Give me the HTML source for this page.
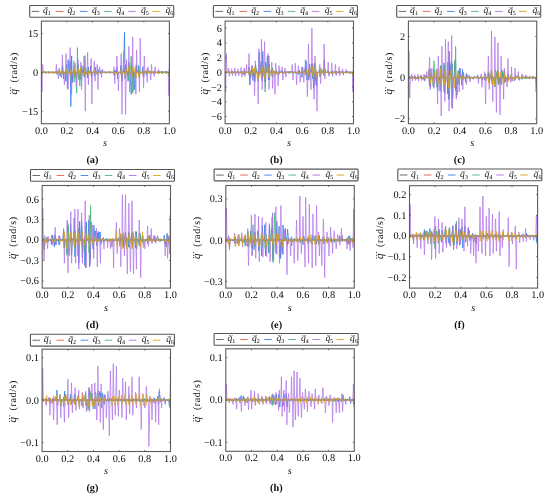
<!DOCTYPE html>
<html><head><meta charset="utf-8"><title>Jerk profiles</title>
<style>
html,body{margin:0;padding:0;background:#fff}
svg{display:block}
text{font-family:"Liberation Serif",serif;fill:#0c0c0c;text-rendering:geometricPrecision}
.t{font-size:10.3px}
.i{font-size:11px;font-style:italic}
.yl{font-size:10px;letter-spacing:0.62px}
.cap{font-size:10.3px;font-weight:bold}
.dots{font-size:9px;letter-spacing:0.4px}
.lq{font-size:9.5px;font-style:italic}
.ld{font-size:7px;letter-spacing:-0.35px}
.ls{font-size:6px}
</style></head><body>
<svg width="550" height="498" viewBox="0 0 550 498">
<rect width="550" height="498" fill="#fff"/>
<g><clipPath id="ca"><rect x="41.4" y="21.1" width="128" height="102.6"/></clipPath>
<g clip-path="url(#ca)" fill="none" stroke-linejoin="round">
<polyline stroke="#5a5a5a" stroke-width="0.6" points="41.4,72.4 41.4,72.4 42,73.2 42.7,71.6 43.4,72.4 44.4,72.4 45.1,73 45.8,71.8 46.5,72.4 48,72.4 48.6,71.8 49.4,72.9 50,72.4 51.9,72.4 52.5,72.9 53.3,72.1 53.9,72.4 55.8,72.4 56.4,71.7 57.2,73 57.8,72.4 58.3,72.4 59,71.7 59.7,73.4 60.3,72.4 62.1,72.4 62.7,71.4 63.5,73.6 64.1,72.4 65.1,72.4 65.7,71.3 66.5,73.9 67.1,72.4 69.1,72.4 69.7,73.6 70.5,71 71.1,72.4 73.3,72.4 74,73.9 74.7,70.4 75.4,72.4 77.5,72.4 78.1,70.8 78.9,74.1 79.5,72.4 80.5,72.4 81.2,74.3 81.9,70.3 82.6,72.4 83.2,72.4 83.9,70.8 84.6,74 85.2,72.4 86.7,72.4 87.4,74.3 88.1,71.3 88.8,72.4 90.3,72.4 90.9,71.5 91.7,73.5 92.3,72.4 94,72.4 94.6,71.5 95.4,73.2 96,72.4 96.5,72.4 97.1,73.1 97.9,71.7 98.5,72.4 100,72.4 100.6,71.9 101.4,72.9 102,72.4 104.9,72.4 105.5,71.9 106.3,72.9 106.9,72.4 108.9,72.4 109.6,73 110.3,71.8 110.9,72.4 113.2,72.4 113.8,71.8 114.5,73 115.2,72.4 116.2,72.4 116.8,73.5 117.6,71.5 118.2,72.4 120.3,72.4 120.9,74.1 121.7,70.7 122.3,72.4 124.5,72.4 125.1,73.8 125.9,70.8 126.5,72.4 127.6,72.4 128.2,70.9 129,74 129.6,72.4 131.1,72.4 131.8,74.5 132.5,70.4 133.2,72.4 134.3,72.4 134.9,74.7 135.7,70.4 136.3,72.4 138.2,72.4 138.8,70.4 139.6,73.9 140.2,72.4 142.4,72.4 143,73.7 143.8,71.1 144.4,72.4 146,72.4 146.6,71 147.4,73.8 148,72.4 149,72.4 149.7,71.2 150.4,73.9 151.1,72.4 153.3,72.4 154,71.6 154.7,73.9 155.4,72.4 157.5,72.4 158.1,73.6 158.9,71.3 159.5,72.4 161.2,72.4 161.8,73.5 162.6,71.5 163.2,72.4 164.8,72.4 165.4,71.6 166.2,73.2 166.8,72.4 168.2,72.4 168.8,72.8 169.5,71.9 169.4,72.4"/>
<polyline stroke="#ea5a56" stroke-width="0.6" points="41.4,72.4 41.4,72.4 42,73.1 42.7,71.4 43.4,72.4 44.2,72.4 44.8,71.8 45.6,73.4 46.2,72.4 47.8,72.4 48.4,71.6 49.2,73.2 49.8,72.4 51.8,72.4 52.4,72.9 53.1,71.9 53.8,72.4 55.9,72.4 56.5,73.5 57.3,71.6 57.9,72.4 58.5,72.4 59.1,71.4 59.9,73.7 60.5,72.4 61.7,72.4 62.3,70.6 63.1,73.9 63.7,72.4 65.2,72.4 65.8,74 66.6,70.1 67.2,72.4 69.7,72.4 70.4,69.7 71.1,75.1 71.7,72.4 73.3,72.4 73.9,70.4 74.7,74.9 75.3,72.4 77.5,72.4 78.2,75.5 78.9,69.3 79.6,72.4 80.2,72.4 80.8,75.4 81.6,69.5 82.2,72.4 83.1,72.4 83.7,75.2 84.5,70 85.1,72.4 86.9,72.4 87.5,70.5 88.3,74 88.9,72.4 90.3,72.4 90.9,70.7 91.6,73.9 92.3,72.4 93.7,72.4 94.3,71.3 95.1,73.8 95.7,72.4 96.7,72.4 97.4,73.5 98.1,71.4 98.8,72.4 100,72.4 100.6,73 101.4,72 102,72.4 104.4,72.4 105,72.7 105.8,71.9 106.4,72.4 108.8,72.4 109.5,72.9 110.2,71.8 110.9,72.4 113.4,72.4 114,72.9 114.8,72 115.4,72.4 116.5,72.4 117.2,71.4 117.9,73.2 118.6,72.4 120.3,72.4 120.9,74.1 121.7,70.7 122.3,72.4 124.2,72.4 124.8,70.4 125.6,74.6 126.2,72.4 127.8,72.4 128.4,75 129.2,69.1 129.8,72.4 131.1,72.4 131.7,75.5 132.5,69.6 133.1,72.4 134.2,72.4 134.8,69.6 135.6,75.3 136.2,72.4 138.1,72.4 138.7,74.5 139.5,70.9 140.1,72.4 142,72.4 142.6,73.6 143.4,71 144,72.4 145.5,72.4 146.2,71.2 146.9,73.6 147.5,72.4 149.5,72.4 150.1,71.3 150.9,73.7 151.5,72.4 152.7,72.4 153.3,73.5 154.1,71.5 154.7,72.4 157.8,72.4 158.5,73.3 159.2,71.5 159.9,72.4 161.3,72.4 161.9,71.4 162.7,73.5 163.3,72.4 165.3,72.4 165.9,71.4 166.7,73.1 167.3,72.4 168.2,72.4 168.8,73.1 169.5,71.8 169.4,72.4"/>
<polyline stroke="#3580ea" stroke-width="0.8" points="41.4,72.4 41.4,72.4 42,73.4 42.7,71.5 43.4,72.4 44.4,72.4 45.1,73 45.8,71.8 46.5,72.4 47.8,72.4 48.4,71.9 49.2,72.9 49.8,72.4 52.1,72.4 52.7,71.8 53.5,73.3 54.1,72.4 55.9,72.4 56.5,70.4 57.3,74.5 57.9,72.4 58.8,72.4 59.4,69.3 60.1,76.2 60.8,72.4 62,72.4 62.6,66.3 63.4,78.8 64,72.4 65.3,72.4 65.9,81.2 66.7,64.3 67.4,88.4 68.1,59.6 69.1,72.4 69.5,72.4 70.1,61.1 70.8,106.4 71.6,56 72.3,82.6 72.9,72.4 73.6,72.4 74.2,66.3 75,78 75.6,72.4 77.6,72.4 78.3,65.7 79,77.7 79.7,72.4 80.5,72.4 81.1,79.6 81.9,65.5 82.5,72.4 83.3,72.4 83.9,67.3 84.7,77 85.3,72.4 87,72.4 87.7,78 88.4,66.9 89.1,72.4 90.1,72.4 90.7,66 91.5,77.5 92.1,72.4 93.9,72.4 94.5,75.9 95.3,67.2 95.9,72.4 96.8,72.4 97.4,75.2 98.2,69.5 98.8,72.4 99.9,72.4 100.5,74 101.3,70.3 101.9,72.4 104.3,72.4 104.9,71.7 105.7,73.3 106.3,72.4 109.3,72.4 110,71.6 110.7,73 111.4,72.4 113.6,72.4 114.2,75.4 115,70 115.6,72.4 116.2,72.4 116.8,67.5 117.6,79 118.2,72.4 120.3,72.4 120.9,65.3 121.7,81.2 122.3,72.4 123.5,72.4 124.5,32 125.2,78.6 125.9,64.6 126.5,72.4 127.5,72.4 128.1,81.2 128.9,62.4 129.5,72.4 130.2,72.4 131.2,94.4 132.2,65.2 132.9,79 133.6,72.4 133.8,72.4 134.8,89.6 135.2,73.1 135.5,77.9 136.2,64.8 136.9,72.4 138,72.4 138.6,65.5 139.3,77.8 140,72.4 142.3,72.4 143,66.6 143.7,77.2 144.4,72.4 145.9,72.4 146.5,75 147.3,69.1 147.9,72.4 149.1,72.4 149.7,70.8 150.5,74 151.1,72.4 152.9,72.4 153.5,74 154.3,70.8 154.9,72.4 157.8,72.4 158.4,71.6 159.2,73.3 159.8,72.4 161.1,72.4 161.7,71.4 162.5,73.5 163.1,72.4 165.3,72.4 166,73.3 166.7,71.8 167.4,72.4 168.2,72.4 168.8,76.3 169.5,68.3 169.4,72.4"/>
<polyline stroke="#45b57c" stroke-width="0.8" points="41.4,72.4 41.4,72.4 42,72.9 42.7,72 43.4,72.4 44.1,72.4 44.8,71.9 45.5,73 46.1,72.4 48.1,72.4 48.7,72 49.5,72.8 50.1,72.4 51.9,72.4 52.6,71.9 53.3,72.9 54,72.4 55.5,72.4 56.2,73.7 56.9,71.6 57.6,72.4 58.7,72.4 59.3,70.9 60.1,74.1 60.7,72.4 62.1,72.4 62.7,70.3 63.5,75.6 64.1,72.4 65.1,72.4 65.7,77.4 66.5,67.6 67.1,72.4 69.7,72.4 70.3,66.8 71.1,79.6 71.7,72.4 73.5,72.4 74.1,82.2 74.9,63 75.5,72.4 75.8,72.4 76.7,93.2 77.4,47.6 77.8,71.4 78.2,64.1 78.9,80.1 79.4,73.3 79.8,86.2 80.9,67.2 81.7,77.3 82.3,72.4 83.7,72.4 84.3,77.3 85,55.5 85.4,71.8 85.7,67.3 86.4,72.4 86.6,72.4 87.3,75.6 88,68.5 88.7,72.4 90.4,72.4 91,70.6 91.8,74.5 92.4,72.4 93.4,72.4 94,70.5 94.8,74.1 95.4,72.4 96.6,72.4 97.3,73.8 98,71.2 98.6,72.4 100.2,72.4 100.8,73.2 101.5,71.8 102.2,72.4 104.6,72.4 105.2,72 106,73 106.6,72.4 109.3,72.4 109.9,72 110.7,73 111.3,72.4 113.3,72.4 113.9,72.8 114.7,71.9 115.3,72.4 116.5,72.4 117.1,70.5 117.9,74.6 118.5,72.4 120.9,72.4 121.5,68.4 122.2,76.9 122.9,72.4 124,72.4 124.6,67.6 125.4,77.2 126,72.4 127.9,72.4 128.5,80 129.3,67.4 129.9,72.4 130.2,72.4 131.2,56 131.7,71.6 132.1,65.5 132.8,93.2 133.2,73.2 133.6,79.1 134.2,72.4 134.7,72.4 135.3,77.4 136.1,67 136.7,72.4 138,72.4 138.6,67.9 139.3,77.2 140,72.4 142,72.4 142.6,74.5 143.4,70.1 144,72.4 145.6,72.4 146.2,71.1 147,74.5 147.6,72.4 149.6,72.4 150.2,73.5 150.9,71.2 151.6,72.4 153,72.4 153.7,73.2 154.4,71.5 155.1,72.4 157.7,72.4 158.3,71.4 159.1,73.5 159.7,72.4 161.7,72.4 162.4,73.2 163.1,71.6 163.8,72.4 165.2,72.4 165.8,71.4 166.6,73.3 167.2,72.4 168.2,72.4 168.8,73.6 169.5,71.5 169.4,72.4"/>
<polyline stroke="#ae70e8" stroke-width="0.7" points="41.4,72.4 41.4,72.4 42,92 42.7,64.4 43.3,72.4 44.5,71.7 46.2,73.6 47.7,71.8 49.3,73.3 50.5,71.7 51.7,73 53,71.4 54.5,73.3 55.8,72.4 56.4,64.4 57,72.4 57.8,72.4 58.4,78.8 59.3,68 59.9,72.4 60.9,72.4 61.5,77.6 62.4,54.8 63,72.4 63.8,72.4 64.4,84.8 65,72.4 65.4,72.4 66,53.6 66.6,72.4 67.4,72.4 68,89.6 68.6,72.4 69.5,72.4 70.1,47.6 70.7,72.4 71,72.4 71.6,94.4 72.2,72.4 73.4,72.4 73.9,60.8 74.5,72.4 75.8,72.4 76.4,86 77,72.4 77.4,72.4 78,59.6 78.6,72.4 80.3,72.4 80.9,62 81.6,89.6 82.2,72.4 83.4,72.4 84,56 84.6,72.4 84.7,72.4 85.3,111.2 85.8,72.4 87,72.4 87.6,52.4 88.4,84.8 89,72.4 90.6,72.4 91.2,58.4 91.9,104 92.5,72.4 93.8,72.4 94.3,60.8 95.1,81.2 95.7,72.4 96.6,72.4 97.2,64.4 98,89.6 98.6,72.4 99,72.4 99.6,66.8 100.2,72.4 101,72.4 101.6,77.6 102.5,69.2 103.1,72.4 104.3,71.6 105.9,73.2 107.7,71.4 109.5,73.5 110.6,71.8 111.9,72.9 113.4,72.4 114,66.8 114.8,83.6 115.4,72.4 116.3,72.4 116.9,56 117.5,72.4 117.8,72.4 118.4,90.8 119,72.4 120.6,72.4 121.2,53.6 122,114.3 122.6,72.4 123,72.4 123.6,51.2 124.2,72.4 125,72.4 125.6,114.3 126.5,59.6 127.1,72.4 128.3,72.4 128.9,46.4 129.6,92 130.2,72.4 132.2,72.4 132.7,36.8 133.5,90.8 134,72.4 135.3,72.4 135.9,94.4 136.6,50 137.2,72.4 138.9,72.4 139.5,92 140.2,38 140.8,72.4 143,72.4 143.6,87.7 144.3,56 144.9,72.4 146.6,72.4 147.2,82.4 147.9,66.8 148.5,72.4 150.2,72.4 150.8,80 151.5,64.4 152.1,72.4 153.8,72.4 154.4,76.4 155.1,66.8 155.7,72.4 157.8,72.4 158.4,69.2 159,72.4 160.2,71.6 161.9,73 163.5,71.2 164.8,73.2 166.2,71.4 168.2,72.4 168.8,95.6 169.5,58.4 169.4,72.4"/>
<polyline stroke="#e0a315" stroke-width="0.68" points="41.4,72.4 41.4,72.4 42,74.7 42.7,70.7 43.4,72.4 44.4,72.4 45.1,71.7 45.8,73 46.5,72.4 48.1,72.4 48.7,73.3 49.5,71.7 50.1,72.4 51.6,72.4 52.2,71.5 53,73.3 53.6,72.4 55.5,72.4 56.1,71.2 56.9,73.6 57.5,72.4 58.4,72.4 59.1,70.7 59.8,73.8 60.4,72.4 61.4,72.4 62.1,74.1 62.8,70.2 63.5,72.4 65.7,72.4 66.3,69.4 67,75.2 67.7,72.4 69.5,72.4 70.2,75.4 70.9,70 71.6,72.4 73.3,72.4 73.9,77.4 74.7,68 75.3,72.4 77.7,72.4 78.3,68.6 79.1,76 79.7,72.4 80,72.4 80.6,67.3 81.4,77.5 82,72.4 83.5,72.4 84.1,75.7 84.9,68.6 85.5,72.4 87.3,72.4 87.9,70.3 88.7,74.5 89.3,72.4 90.2,72.4 90.8,74.8 91.6,70.9 92.2,72.4 94,72.4 94.6,70.5 95.4,74 96,72.4 96.3,72.4 96.9,73.6 97.6,71 98.3,72.4 100.2,72.4 100.8,73.2 101.6,71.6 102.2,72.4 104.8,72.4 105.4,72 106.2,73 106.8,72.4 109.2,72.4 109.8,72.9 110.6,71.6 111.2,72.4 113.1,72.4 113.7,71.7 114.5,73.3 115.1,72.4 116.2,72.4 116.8,74.3 117.6,71.2 118.2,72.4 120.4,72.4 121,70.4 121.8,74.7 122.4,72.4 124.5,72.4 125.1,76.2 125.9,68.6 126.5,72.4 128.1,72.4 128.7,66.6 129.5,76.3 130.1,72.4 131.5,72.4 132.1,76.9 132.9,66.1 133.5,72.4 134.6,72.4 135.2,66.9 136,78.5 136.6,72.4 138,72.4 138.6,76.6 139.4,69.5 140,72.4 142,72.4 142.6,74.6 143.4,69.9 144,72.4 145.7,72.4 146.3,70.3 147.1,73.8 147.7,72.4 149.4,72.4 150,71.1 150.8,73.6 151.4,72.4 153.2,72.4 153.8,73.3 154.6,71.3 155.2,72.4 157.8,72.4 158.4,73.4 159.2,71.5 159.8,72.4 161.3,72.4 161.9,71.5 162.7,73.2 163.3,72.4 165.2,72.4 165.9,72.9 166.6,71.8 167.2,72.4 168.2,72.4 168.8,75.2 169.5,70.2 169.4,72.4"/>
</g>
<rect x="41.4" y="21.1" width="128" height="102.6" fill="none" stroke="#5c5c5c" stroke-width="1.1"/>
<path d="M67 123.7v-1.5M67 21.1v1.5M92.6 123.7v-1.5M92.6 21.1v1.5M118.2 123.7v-1.5M118.2 21.1v1.5M143.8 123.7v-1.5M143.8 21.1v1.5M41.4 33.6h1.5M169.4 33.6h-1.5M41.4 72.4h1.5M169.4 72.4h-1.5M41.4 111.2h1.5M169.4 111.2h-1.5" stroke="#555" stroke-width="0.8" fill="none"/>
<text class="t" text-anchor="end" x="38.2" y="37">15</text>
<text class="t" text-anchor="end" x="38.2" y="75.8">0</text>
<text class="t" text-anchor="end" x="38.2" y="114.6">−15</text>
<text class="t" text-anchor="middle" x="41.4" y="133.7">0.0</text>
<text class="t" text-anchor="middle" x="67" y="133.7">0.2</text>
<text class="t" text-anchor="middle" x="92.6" y="133.7">0.4</text>
<text class="t" text-anchor="middle" x="118.2" y="133.7">0.6</text>
<text class="t" text-anchor="middle" x="143.8" y="133.7">0.8</text>
<text class="t" text-anchor="middle" x="169.4" y="133.7">1.0</text>
<text class="i" style="font-size:10.2px" text-anchor="middle" x="105.1" y="146.2">s</text>
<text class="cap" text-anchor="middle" x="92.4" y="163.2">(a)</text>
<g transform="translate(17 74.4) rotate(-90)">
<text class="i" x="-20.2" y="0">q</text><text class="dots" x="-20.0" y="-6.0">...</text><text class="yl" x="-8.0" y="0">(rad/s)</text></g>
<rect x="29.7" y="5.5" width="144" height="11.8" rx="0.8" fill="#fff" stroke="#555" stroke-width="1.1"/>
<path d="M31.7 11.4h7.6" stroke="#5a5a5a" stroke-width="0.9"/>
<text class="lq" x="43" y="13.4">q</text><text class="ld" x="44" y="8.1">...</text><text class="ls" x="47.8" y="15.2">1</text>
<path d="M55.8 11.4h7.6" stroke="#ea5a56" stroke-width="0.9"/>
<text class="lq" x="67.5" y="13.4">q</text><text class="ld" x="68.5" y="8.1">...</text><text class="ls" x="72.3" y="15.2">2</text>
<path d="M79.9 11.4h7.6" stroke="#3580ea" stroke-width="0.9"/>
<text class="lq" x="92" y="13.4">q</text><text class="ld" x="93" y="8.1">...</text><text class="ls" x="96.8" y="15.2">3</text>
<path d="M104 11.4h7.6" stroke="#45b57c" stroke-width="0.9"/>
<text class="lq" x="116.5" y="13.4">q</text><text class="ld" x="117.5" y="8.1">...</text><text class="ls" x="121.3" y="15.2">4</text>
<path d="M128.1 11.4h7.6" stroke="#ae70e8" stroke-width="0.9"/>
<text class="lq" x="141" y="13.4">q</text><text class="ld" x="142" y="8.1">...</text><text class="ls" x="145.8" y="15.2">5</text>
<path d="M152.2 11.4h7.6" stroke="#e0a315" stroke-width="0.9"/>
<text class="lq" x="165.5" y="13.4">q</text><text class="ld" x="166.5" y="8.1">...</text><text class="ls" x="170.3" y="15.2">6</text></g>
<g><clipPath id="cb"><rect x="225.1" y="21.1" width="128.4" height="102.6"/></clipPath>
<g clip-path="url(#cb)" fill="none" stroke-linejoin="round">
<polyline stroke="#5a5a5a" stroke-width="0.6" points="225.1,72.4 225.7,72.9 226.4,71.5 227.1,72.4 228.2,72.4 228.8,71.9 229.6,73.2 230.2,72.4 231,72.4 231.7,73 232.4,71.7 233.1,72.4 234.4,72.4 235,71.7 235.8,72.9 236.4,72.4 237.5,72.4 238.1,71.7 238.9,73.1 239.5,72.4 240.8,72.4 241.4,71.9 242.1,73 242.8,72.4 243.7,72.4 244.3,71.8 245.1,73.4 245.7,72.4 248.2,72.4 248.8,73.4 249.6,70.9 250.2,72.4 251.4,72.4 252.1,71.2 252.8,74 253.5,72.4 254.7,72.4 255.3,73.8 256.1,71.2 256.7,72.4 258.2,72.4 258.8,71 259.6,74.4 260.2,72.4 260.9,72.4 261.5,75 262.3,69.9 262.9,72.4 263.9,72.4 264.5,74.2 265.3,70.8 265.9,72.4 267.5,72.4 268.1,70.1 268.9,73.8 269.5,72.4 271.2,72.4 271.8,71.2 272.6,73.6 273.2,72.4 275,72.4 275.7,73.3 276.4,71 277.1,72.4 278.4,72.4 279,71.7 279.8,73.1 280.4,72.4 281.2,72.4 281.8,73 282.6,71.6 283.2,72.4 284.2,72.4 284.8,72.7 285.6,72.1 286.2,72.4 288.1,72.4 288.7,71.9 289.5,72.7 290.1,72.4 291.4,72.4 292,72.9 292.8,71.9 293.4,72.4 294.7,72.4 295.3,72.9 296.1,71.9 296.7,72.4 298.1,72.4 298.8,71.8 299.5,73 300.1,72.4 301.4,72.4 302,73.2 302.8,71.2 303.4,72.4 304.5,72.4 305.1,70.3 305.9,74.5 306.5,72.4 308.2,72.4 308.8,74.1 309.6,69.7 310.2,72.4 311.2,72.4 311.9,69.7 312.6,74.2 313.3,72.4 314.1,72.4 314.7,74.7 315.5,70.7 316.1,72.4 319.3,72.4 319.9,75.9 320.7,69.4 321.3,72.4 322.9,72.4 323.6,75.2 324.3,59.6 324.7,72 325,69.2 325.6,72.4 327.3,72.4 327.9,70.1 328.7,74.3 329.3,72.4 331.3,72.4 331.9,73.6 332.7,71.3 333.3,72.4 335.1,72.4 335.7,73.4 336.5,71.5 337.1,72.4 338.3,72.4 339,73.3 339.7,71.3 340.4,72.4 342.1,72.4 342.8,71.6 343.5,73.4 344.1,72.4 345.7,72.4 346.3,73 347.1,71.5 347.7,72.4 349.3,72.4 349.9,71.7 350.7,73.2 351.3,72.4 352.3,72.4 352.9,72.9 353.6,72 353.5,72.4"/>
<polyline stroke="#ea5a56" stroke-width="0.6" points="225.1,72.4 225.7,73.3 226.4,71.3 227.1,72.4 228,72.4 228.6,73.1 229.4,71.3 230,72.4 231.2,72.4 231.8,71.5 232.5,73.2 233.2,72.4 234.2,72.4 234.8,71.6 235.6,73.3 236.2,72.4 237.4,72.4 238,73.2 238.8,71.7 239.4,72.4 240.2,72.4 240.8,73.3 241.6,71.7 242.2,72.4 243.5,72.4 244.2,71.2 244.9,73.5 245.6,72.4 248.5,72.4 249.1,75.2 249.9,70.5 250.5,72.4 251.5,72.4 252.1,69 252.9,76.3 253.5,72.4 254.4,72.4 255,75.5 255.8,68.5 256.4,72.4 257.7,72.4 258.3,69.9 259.1,75 259.7,72.4 261,72.4 261.6,69.1 262.3,76.8 263,72.4 263.7,72.4 264.3,76.9 265,68.7 265.7,72.4 267.8,72.4 268.4,69.1 269.2,75.8 269.8,72.4 271.5,72.4 272.1,74.3 272.9,70.2 273.5,72.4 274.8,72.4 275.5,70.8 276.2,73.8 276.9,72.4 278.1,72.4 278.7,73.4 279.4,71.5 280.1,72.4 281.9,72.4 282.5,71.5 283.3,73 283.9,72.4 284.6,72.4 285.2,72 286,72.7 286.6,72.4 287.7,72.4 288.3,72.8 289.1,72.1 289.7,72.4 291.3,72.4 291.9,72 292.7,73 293.3,72.4 294.8,72.4 295.4,71.9 296.2,72.9 296.8,72.4 298.1,72.4 298.7,73 299.5,71.9 300.1,72.4 301.3,72.4 301.9,71.4 302.7,73.8 303.3,72.4 304.8,72.4 305.4,69.2 306.1,75.5 306.8,72.4 307.9,72.4 308.6,75.3 309.3,68.7 310.6,72 311.8,63.9 312.2,72.1 312.5,69.8 313.2,76.3 313.9,72.4 314.2,72.4 314.9,76.1 315.6,69.3 316.3,72.4 319.5,72.4 320.2,75.1 320.9,70.4 321.5,72.4 322.9,72.4 323.6,73.5 324.3,71.5 325,72.4 327.8,72.4 328.4,71.2 329.1,73.5 329.8,72.4 331.4,72.4 332,71.1 332.7,73.7 333.4,72.4 334.9,72.4 335.5,71.3 336.3,73.4 336.9,72.4 338.6,72.4 339.2,73.3 340,71.6 340.6,72.4 342.1,72.4 342.7,73.2 343.5,71.8 344.1,72.4 345.6,72.4 346.2,71.3 347,73.2 347.6,72.4 349.3,72.4 350,73.4 350.7,71.8 351.3,72.4 352.3,72.4 352.9,73.1 353.6,71.7 353.5,72.4"/>
<polyline stroke="#3580ea" stroke-width="0.8" points="225.1,72.4 225.7,73.4 226.4,71 227.1,72.4 228.1,72.4 228.7,73.1 229.5,71.7 230.1,72.4 231.4,72.4 232.1,73.2 232.8,71.6 233.4,72.4 233.9,72.4 234.5,73.3 235.3,71.4 235.9,72.4 237.2,72.4 237.8,71.1 238.6,73.2 239.2,72.4 240.7,72.4 241.3,73.2 242.1,71.3 242.7,72.4 243.2,72.4 243.9,74.9 244.6,69.5 245.3,72.4 248.5,72.4 249.1,67.3 249.9,84.8 250.2,73.1 250.6,77.9 251.2,72.4 251.5,72.4 252.1,65.7 252.9,80.6 253.5,72.4 254.2,72.4 254.8,82 255.6,64.7 256.2,72.4 257.7,72.4 258.4,81.7 259.1,52.4 259.4,71.5 259.8,64.9 260.4,72.4 260.6,72.4 261.2,61.1 262,80.8 262.7,51.2 263.7,72.4 264.2,72.4 264.9,81.8 265.6,62.1 266.3,72.4 266.4,72.4 267.4,56 268.4,80 269.1,64 269.7,72.4 271.2,72.4 271.8,69 272.6,77 273.2,72.4 274.8,72.4 275.4,70.5 276.2,74.4 276.8,72.4 278.4,72.4 279,74.4 279.8,70.5 280.4,72.4 281.5,72.4 282.1,70.7 282.9,73.7 283.5,72.4 284.5,72.4 285.2,73.5 285.9,71.4 286.6,72.4 288,72.4 288.6,73.4 289.4,71.2 290,72.4 291.7,72.4 292.3,71.3 293.1,73.4 293.7,72.4 295,72.4 295.6,71.5 296.4,73.4 297,72.4 297.8,72.4 298.4,74.6 299.2,70.1 299.8,72.4 301.3,72.4 302,77.4 302.7,67.5 303.3,72.4 304.8,72.4 305.4,67.5 305.7,71.8 306.1,60.8 306.8,79.9 307.4,72.4 308.3,72.4 308.9,80.2 309.6,64.2 310.3,72.4 311.4,72.4 312,63.9 312.7,78.9 313.1,73.2 313.5,88.4 314.9,63.7 315.7,80.6 316,73.4 316.4,86 317.4,72.4 318.9,72.4 319.5,69.3 320.3,77 320.9,72.4 322.6,72.4 323.2,69.7 323.9,75.3 324.6,72.4 327.8,72.4 328.4,71 329.2,74.3 329.8,72.4 331,72.4 331.7,73.5 332.4,71.5 333.1,72.4 334.7,72.4 335.3,71.6 336,73.3 336.7,72.4 338.7,72.4 339.4,73.2 340.1,71.7 340.7,72.4 341.9,72.4 342.5,71.5 343.3,73.5 343.9,72.4 345.9,72.4 346.5,73.1 347.3,71.5 347.9,72.4 349.2,72.4 349.9,73.3 350.6,71.6 351.3,72.4 352.3,72.4 352.9,76.3 353.6,69 353.5,72.4"/>
<polyline stroke="#45b57c" stroke-width="0.8" points="225.1,72.4 225.7,73 226.4,71.5 227.1,72.4 227.6,72.4 228.3,73.1 229,71.7 229.7,72.4 231.2,72.4 231.8,73.1 232.6,71.6 233.2,72.4 234.6,72.4 235.2,71.8 236,73.1 236.6,72.4 237.2,72.4 237.8,71.9 238.5,72.9 239.2,72.4 240.4,72.4 241,71.7 241.8,73.1 242.4,72.4 243.7,72.4 244.4,71.1 245.1,73.6 245.8,72.4 248.3,72.4 248.9,74.2 249.7,69.8 250.3,72.4 251.9,72.4 252.5,75 253.2,68.7 253.9,72.4 254.6,72.4 255.2,77 256,68.4 256.6,72.4 258,72.4 258.6,77.2 259.4,66.9 260,72.4 260.9,72.4 261.5,64.1 262.3,77.9 262.9,72.4 263.8,72.4 264.4,77.4 264.8,73 265.1,92 265.9,66.7 266.5,72.4 267.6,72.4 268.2,63.6 268.5,71.3 268.9,56 269.6,79.9 270.2,72.4 271.1,72.4 271.7,75.6 272.5,67.6 273.1,72.4 275,72.4 275.6,70.1 276.3,74.1 277,72.4 278.1,72.4 278.7,73.9 279.4,71.1 280.1,72.4 281.2,72.4 281.9,71.1 282.6,73.6 283.3,72.4 284.1,72.4 284.7,71.9 285.5,72.9 286.1,72.4 288,72.4 288.6,71.9 289.4,73.1 290,72.4 291.5,72.4 292.2,72.8 292.9,71.7 293.6,72.4 294.9,72.4 295.6,71.8 296.3,72.8 297,72.4 298.2,72.4 298.8,73.1 299.6,71.8 300.2,72.4 301.1,72.4 301.7,73.9 302.5,71 303.1,72.4 304.8,72.4 305.5,74.8 306.2,69.8 306.8,72.4 307.9,72.4 308.5,68.7 309.3,77.5 309.9,72.4 311.3,72.4 311.9,65.3 312.7,77.5 314.2,63.2 314.9,84.8 315.6,66.4 316.4,79.2 317,72.4 319.5,72.4 320.1,75.7 320.9,67.9 321.5,72.4 323,72.4 323.6,74.2 324.4,69.5 325,72.4 328,72.4 328.6,71.2 329.3,73.6 330,72.4 331.4,72.4 332,73.4 332.8,71.4 333.4,72.4 334.6,72.4 335.2,73.4 336,71.4 336.6,72.4 338.2,72.4 338.9,73.2 339.6,71.5 340.3,72.4 342.2,72.4 342.9,71.7 343.6,73.3 344.3,72.4 345.5,72.4 346.1,73 346.9,71.5 347.5,72.4 348.7,72.4 349.4,71.8 350.1,73.2 350.8,72.4 352.3,72.4 352.9,73.1 353.6,71.6 353.5,72.4"/>
<polyline stroke="#ae70e8" stroke-width="0.7" points="225.1,72.4 225.1,72.4 225.7,92 226.4,53.6 227,72.4 228,72.4 228.6,68 229.4,76.4 230,72.4 231.2,72.4 231.7,68.7 232.5,75.7 233.1,72.4 234.3,72.4 234.9,68 235.6,76.4 236.2,72.4 237.4,72.4 238,68.7 238.7,75.7 239.3,72.4 240.5,72.4 241.1,67.5 241.9,77.1 242.4,72.4 243.6,72.4 244.2,68 245,76.4 245.6,72.4 246,72.4 246.6,64.4 247.2,72.4 248.4,72.4 249,53.6 249.8,84.8 250.4,72.4 251.6,72.4 252.1,65.6 252.7,72.4 254,72.4 254.6,95.6 255.3,60.8 255.9,72.4 257.6,72.4 258.2,104 258.9,48.8 259.5,72.4 260.9,72.4 261.5,39.2 262.2,89.6 262.8,72.4 264,72.4 264.6,41.6 265.4,87.2 266,72.4 267.6,72.4 268.2,53.6 269,89.6 269.6,72.4 271.2,72.4 271.8,62 272.6,88.4 273.2,72.4 274.4,72.4 275,94.4 275.7,63.2 276.3,72.4 277.5,72.4 278.1,86 279,65.6 279.6,72.4 281.6,72.4 282.1,66.8 282.9,80 283.4,72.4 284.4,72.4 285,68 285.8,77.1 286.4,72.4 287.6,71.5 289.1,72.9 290.2,71.4 291.6,72.4 292.2,64.4 293,80 293.6,72.4 294.8,72.4 295.3,63.2 295.9,72.4 296,72.4 296.6,84.8 297.2,72.4 297.9,72.4 298.5,65.6 299,72.4 299.6,72.4 300.2,82.4 300.8,72.4 301.2,72.4 301.8,66.8 302.4,72.4 303.2,72.4 303.8,82.4 304.4,72.4 304.8,72.4 305.4,59.6 306,72.4 306.8,72.4 307.4,96.8 308.5,44 309.1,72.4 310.4,72.4 311,89.6 311.9,28.4 312.5,72.4 313.5,72.4 314.1,99.2 315,56 315.6,72.4 316.4,72.4 317,111.2 317.6,72.4 319.2,72.4 319.8,64.4 320.6,83.6 321.2,72.4 323.6,72.4 324.1,44 324.9,78.8 325.4,72.4 327.6,72.4 328.2,62 329,76.4 329.6,72.4 331.2,72.4 331.8,62.7 332.6,76.4 333.2,72.4 334.8,72.4 335.4,64.4 336.2,75.7 336.8,72.4 338.4,72.4 339,66.8 339.8,75.7 340.4,72.4 342,72.4 342.6,68.7 343.4,75.2 344,72.4 345.6,72.4 346.2,69.2 346.8,72.4 348,71.6 349.7,73.2 352.3,72.4 352.9,92 353.6,51.2 353.5,72.4"/>
<polyline stroke="#e0a315" stroke-width="0.68" points="225.1,72.4 225.7,73.9 226.4,71 227.1,72.4 227.8,72.4 228.4,73 229.2,71.7 229.8,72.4 231.1,72.4 231.7,71.6 232.5,73.1 233.1,72.4 234.3,72.4 234.9,71.5 235.6,73.1 236.3,72.4 237.2,72.4 237.8,72.9 238.6,71.5 239.2,72.4 240.6,72.4 241.3,73.3 242,71.6 242.7,72.4 243.6,72.4 244.2,73.4 245,71.3 245.6,72.4 248.7,72.4 249.3,70.1 250.1,74.5 250.7,72.4 251.3,72.4 251.9,75.9 252.7,67.9 253.3,72.4 254.3,72.4 254.9,66.5 255.7,78.4 256.3,72.4 258.1,72.4 258.7,79 259.5,65.7 260.1,72.4 260.7,72.4 261.3,76.5 262.1,66.1 262.7,72.4 263.9,72.4 264.6,78.2 265.3,66.6 266,72.4 267.4,72.4 268.1,67.6 268.8,76.8 269.5,72.4 271.4,72.4 272.1,75.6 272.8,70.1 273.4,72.4 274.7,72.4 275.4,70.4 276.1,74.5 276.8,72.4 278.2,72.4 278.8,73.6 279.6,71.6 280.2,72.4 281.5,72.4 282.2,71.6 282.9,73.2 283.5,72.4 284.7,72.4 285.4,73 286.1,71.9 286.7,72.4 288.1,72.4 288.7,71.9 289.5,72.9 290.1,72.4 291.4,72.4 292,73.1 292.7,71.7 293.4,72.4 294.7,72.4 295.3,71.7 296.1,73.1 296.7,72.4 297.6,72.4 298.2,71.7 299,73 299.6,72.4 301,72.4 301.6,73.8 302.4,70.9 303,72.4 305.1,72.4 305.7,74.3 306.5,69.8 307.1,72.4 307.7,72.4 308.3,75.8 309.1,68.9 309.7,72.4 311.6,72.4 312.2,66.1 313,76.1 313.6,72.4 314.7,72.4 315.3,65.7 316.1,76.9 316.7,72.4 319.2,72.4 319.8,76.8 320.5,68.9 321.2,72.4 323,72.4 323.6,73.9 324.4,70.2 325,72.4 327.3,72.4 327.9,71.2 328.7,73.7 329.3,72.4 331.2,72.4 331.9,71.6 332.6,73 333.3,72.4 334.9,72.4 335.5,73 336.3,71.6 336.9,72.4 338.1,72.4 338.8,71.9 339.5,72.9 340.2,72.4 341.7,72.4 342.3,73.1 343.1,71.8 343.7,72.4 345.9,72.4 346.5,71.7 347.3,73.1 347.9,72.4 349.3,72.4 349.9,72.9 350.7,71.9 351.3,72.4 352.3,72.4 352.9,75.5 353.6,69 353.5,72.4"/>
</g>
<rect x="225.1" y="21.1" width="128.4" height="102.6" fill="none" stroke="#5c5c5c" stroke-width="1.1"/>
<path d="M250.8 123.7v-1.5M250.8 21.1v1.5M276.5 123.7v-1.5M276.5 21.1v1.5M302.1 123.7v-1.5M302.1 21.1v1.5M327.8 123.7v-1.5M327.8 21.1v1.5M225.1 28.2h1.5M353.5 28.2h-1.5M225.1 43h1.5M353.5 43h-1.5M225.1 57.7h1.5M353.5 57.7h-1.5M225.1 72.4h1.5M353.5 72.4h-1.5M225.1 87.1h1.5M353.5 87.1h-1.5M225.1 101.8h1.5M353.5 101.8h-1.5M225.1 116.5h1.5M353.5 116.5h-1.5" stroke="#555" stroke-width="0.8" fill="none"/>
<text class="t" text-anchor="end" x="221.9" y="31.6">6</text>
<text class="t" text-anchor="end" x="221.9" y="46.4">4</text>
<text class="t" text-anchor="end" x="221.9" y="61.1">2</text>
<text class="t" text-anchor="end" x="221.9" y="75.8">0</text>
<text class="t" text-anchor="end" x="221.9" y="90.5">−2</text>
<text class="t" text-anchor="end" x="221.9" y="105.2">−4</text>
<text class="t" text-anchor="end" x="221.9" y="119.9">−6</text>
<text class="t" text-anchor="middle" x="225.1" y="133.7">0.0</text>
<text class="t" text-anchor="middle" x="250.8" y="133.7">0.2</text>
<text class="t" text-anchor="middle" x="276.5" y="133.7">0.4</text>
<text class="t" text-anchor="middle" x="302.1" y="133.7">0.6</text>
<text class="t" text-anchor="middle" x="327.8" y="133.7">0.8</text>
<text class="t" text-anchor="middle" x="353.5" y="133.7">1.0</text>
<text class="i" style="font-size:10.2px" text-anchor="middle" x="289" y="146.2">s</text>
<text class="cap" text-anchor="middle" x="276.4" y="163.2">(b)</text>
<g transform="translate(207.8 74.4) rotate(-90)">
<text class="i" x="-20.2" y="0">q</text><text class="dots" x="-20.0" y="-6.0">...</text><text class="yl" x="-8.0" y="0">(rad/s)</text></g>
<rect x="213.4" y="5.5" width="144" height="11.8" rx="0.8" fill="#fff" stroke="#555" stroke-width="1.1"/>
<path d="M215.4 11.4h7.6" stroke="#5a5a5a" stroke-width="0.9"/>
<text class="lq" x="226.7" y="13.4">q</text><text class="ld" x="227.7" y="8.1">...</text><text class="ls" x="231.5" y="15.2">1</text>
<path d="M239.5 11.4h7.6" stroke="#ea5a56" stroke-width="0.9"/>
<text class="lq" x="251.2" y="13.4">q</text><text class="ld" x="252.2" y="8.1">...</text><text class="ls" x="256" y="15.2">2</text>
<path d="M263.6 11.4h7.6" stroke="#3580ea" stroke-width="0.9"/>
<text class="lq" x="275.7" y="13.4">q</text><text class="ld" x="276.7" y="8.1">...</text><text class="ls" x="280.5" y="15.2">3</text>
<path d="M287.7 11.4h7.6" stroke="#45b57c" stroke-width="0.9"/>
<text class="lq" x="300.2" y="13.4">q</text><text class="ld" x="301.2" y="8.1">...</text><text class="ls" x="305" y="15.2">4</text>
<path d="M311.8 11.4h7.6" stroke="#ae70e8" stroke-width="0.9"/>
<text class="lq" x="324.7" y="13.4">q</text><text class="ld" x="325.7" y="8.1">...</text><text class="ls" x="329.5" y="15.2">5</text>
<path d="M335.9 11.4h7.6" stroke="#e0a315" stroke-width="0.9"/>
<text class="lq" x="349.2" y="13.4">q</text><text class="ld" x="350.2" y="8.1">...</text><text class="ls" x="354" y="15.2">6</text></g>
<g><clipPath id="cc"><rect x="408.4" y="21.1" width="128.3" height="102.6"/></clipPath>
<g clip-path="url(#cc)" fill="none" stroke-linejoin="round">
<polyline stroke="#5a5a5a" stroke-width="0.6" points="408.4,77.6 409,78.5 409.7,76.7 410.4,77.6 411.1,77.6 411.7,78.5 412.5,76.7 413.1,77.6 413.9,77.6 414.5,78.4 415.3,77 415.9,77.6 417.4,77.6 418,78.4 418.8,76.8 419.4,77.6 420.5,77.6 421.1,78.2 421.9,76.8 422.5,77.6 423.7,77.6 424.3,78.3 425.1,76.7 425.7,77.6 428.9,77.6 429.6,76 430.3,79.5 431,77.6 432.7,77.6 433.4,80 434.1,76 434.8,77.6 436.3,77.6 436.9,75.4 437.7,80.5 438.3,77.6 439.5,77.6 440.1,80 440.9,74.4 441.5,77.6 443.7,77.6 444.3,80.4 445.1,74.5 445.7,77.6 447,77.6 447.6,75 448.4,80.3 449,77.6 450.8,77.6 451.4,75.7 452.2,79.6 452.8,77.6 454.4,77.6 455.1,74.7 455.8,79.4 456.4,77.6 458.1,77.6 458.7,79.8 459.5,76 460.1,77.6 461.7,77.6 462.3,76.2 463.1,78.7 463.7,77.6 464.9,77.6 465.6,78.7 466.3,77 467,77.6 468.5,77.6 469.1,77.1 469.9,78.3 470.5,77.6 473,77.6 473.6,78.2 474.3,76.9 475,77.6 476.9,77.6 477.6,78.1 478.3,76.9 479,77.6 480.9,77.6 481.5,76.8 482.2,78.2 482.9,77.6 483.9,77.6 484.5,76.3 485.2,78.7 485.9,77.6 488,77.6 488.7,80.2 489.4,75 490.1,77.6 491.1,77.6 491.7,80.5 492.5,75.3 493.1,77.6 494.5,77.6 495.1,80.5 495.9,74.5 496.5,77.6 497.1,77.6 497.7,80.1 498.5,74.4 499.1,77.6 500.5,77.6 501.2,80.6 501.9,75.1 502.6,77.6 503.5,77.6 504.1,73.6 504.9,81.3 505.5,77.6 507.3,77.6 507.9,75 508.7,80 509.3,77.6 510.8,77.6 511.4,75.7 512.2,79.4 512.8,77.6 514,77.6 514.6,79.2 515.3,76.2 516,77.6 517.9,77.6 518.5,76.3 519.3,78.7 519.9,77.6 521.1,77.6 521.7,78.5 522.5,76.5 523.1,77.6 524.9,77.6 525.5,78.4 526.3,76.4 526.9,77.6 528.5,77.6 529.1,76.8 529.9,78.4 530.5,77.6 531.9,77.6 532.5,78.2 533.3,76.7 533.9,77.6 535.5,77.6 536.1,78.5 536.8,76.7 536.7,77.6"/>
<polyline stroke="#ea5a56" stroke-width="0.6" points="408.4,77.6 409,78.8 409.7,76.7 410.4,77.6 410.9,77.6 411.6,78.8 412.3,76.6 413,77.6 414,77.6 414.6,75.9 415.4,78.6 416,77.6 417,77.6 417.7,78.8 418.4,76.1 419,77.6 420.2,77.6 420.9,76.1 421.6,79.4 422.3,77.6 423.7,77.6 424.3,80.1 425.1,75.3 425.7,77.6 427.8,77.6 428.8,69.2 429.2,76.9 429.5,72 430.2,82.9 430.9,77.6 432.9,77.6 433.5,72.9 434.3,82.6 434.9,77.6 436,77.6 436.7,82.7 437.4,73.6 438.1,77.6 439.9,77.6 440.5,71.7 441.3,83.5 441.9,77.6 443.7,77.6 444.4,73.7 445.1,82.3 445.7,77.6 446.8,77.6 447.4,82.4 448.2,73.4 448.8,77.6 450.3,77.6 450.9,74.5 451.7,82 452.3,77.6 454.2,77.6 454.8,74.3 455.6,82 456.2,77.6 458,77.6 458.6,75.1 459.4,81.5 460,77.6 461.3,77.6 462,75.2 462.7,79.5 463.4,77.6 464.7,77.6 465.3,78.6 466,76.1 466.7,77.6 468.8,77.6 469.4,77 470.2,78.4 470.8,77.6 472.8,77.6 473.4,78.2 474.2,77.1 474.8,77.6 477.3,77.6 477.9,77 478.7,78.3 479.3,77.6 480.3,77.6 480.9,78.5 481.7,76.7 482.3,77.6 484.4,77.6 485,75.5 485.8,78.8 486.4,77.6 487.8,77.6 488.4,74.2 489.2,81.1 489.8,77.6 490.9,77.6 491.5,73.3 492.3,82.7 492.9,77.6 494.4,77.6 495,81.9 495.8,74 496.4,77.6 497.7,77.6 498.3,73.5 499.1,81.4 499.7,77.6 500.9,77.6 501.5,82.1 502.3,73.4 502.9,77.6 503.6,77.6 504.3,79.5 505,75.6 505.7,77.6 506.9,77.6 507.5,76.1 508.3,79.2 508.9,77.6 510.9,77.6 511.5,76.5 512.3,79 512.9,77.6 514.5,77.6 515.1,78.6 515.9,76.1 516.5,77.6 518,77.6 518.6,76.3 519.4,79 520,77.6 521.1,77.6 521.7,76.1 522.5,78.6 523.1,77.6 524.9,77.6 525.5,76.4 526.3,78.7 526.9,77.6 528.4,77.6 529,78.4 529.8,76.6 530.4,77.6 532.3,77.6 533,76.3 533.7,78.6 534.4,77.6 535.4,77.6 536.1,78.6 536.8,76.6 536.7,77.6"/>
<polyline stroke="#3580ea" stroke-width="0.8" points="408.4,77.6 409,79.5 409.7,76.2 410.4,77.6 410.8,77.6 411.4,78.7 412.2,76.3 412.8,77.6 414.5,77.6 415.1,76.3 415.9,79.1 416.5,77.6 417.3,77.6 417.9,79.2 418.6,76.4 419.3,77.6 420.5,77.6 421.1,75.6 421.9,79 422.5,77.6 423.6,77.6 424.2,80.3 425,75.5 425.6,77.6 428.9,77.6 429.6,85.7 429.9,78.6 430.3,88.4 431,68.5 431.6,77.6 432.7,77.6 433.3,86.2 434,70.7 434.7,77.6 436.3,77.6 437,68.8 437.7,90 438.4,77.6 439.5,77.6 440.1,91.3 440.9,65.8 441.5,77.6 443.4,77.6 444,62.9 444.8,93.6 445.4,77.6 447.2,77.6 447.8,94.2 448.1,79.6 448.5,99.2 449.2,51.2 449.6,76 449.9,64.4 450.6,77.6 450.7,77.6 451.3,61.2 452,107.6 452.4,80.1 452.7,98.5 453.3,77.6 454.2,77.6 454.9,62.8 455.6,90.9 456.2,77.6 457.6,77.6 458.2,70.7 459,83.9 460,68 461,77.6 461.1,77.6 461.8,85.2 462.5,69.2 462.8,77 463.2,72.4 463.8,77.6 465,77.6 465.6,82.1 466.4,73.4 467,77.6 468.6,77.6 469.2,75.3 469.9,79.3 470.6,77.6 472.6,77.6 473.2,79.3 474,76.5 474.6,77.6 477.1,77.6 477.7,75.8 478.5,78.8 479.1,77.6 480.9,77.6 481.5,75.9 482.3,80 482.9,77.6 484.1,77.6 484.7,80.3 485.5,74 486.1,77.6 487.9,77.6 488.5,72.5 489.3,82.6 489.9,77.6 491,77.6 491.6,72.1 492.4,83.5 493,77.6 494.2,77.6 494.9,87 495.6,69.9 496.3,77.6 497.6,77.6 498.2,71.9 499,83.3 499.6,77.6 500.6,77.6 501.2,84.6 501.9,70.6 502.6,77.6 503.7,77.6 504.3,70.8 505.1,82.1 505.7,77.6 506.7,77.6 507.3,80.8 508,74.3 508.7,77.6 510.8,77.6 511.4,74.5 512.2,81.1 512.8,77.6 514.3,77.6 514.9,80.3 515.6,75.4 516.3,77.6 517.6,77.6 518.2,75.7 519,79.4 519.6,77.6 521.2,77.6 521.8,78.8 522.6,75.6 523.2,77.6 524.6,77.6 525.3,79 526,75.9 526.6,77.6 528.8,77.6 529.4,79 530.2,76.6 530.8,77.6 532,77.6 532.6,76.4 533.3,78.4 534,77.6 535.5,77.6 536.1,81.7 536.8,73.7 536.7,77.6"/>
<polyline stroke="#45b57c" stroke-width="0.8" points="408.4,77.6 409,76.8 409.7,78.2 410.4,77.6 411.3,77.6 412,78.5 412.7,76.8 413.4,77.6 414,77.6 414.6,76.7 415.3,78.5 416,77.6 417.3,77.6 418,78.5 418.7,76.6 419.3,77.6 420.1,77.6 420.7,76.5 421.5,78.4 422.1,77.6 423.3,77.6 423.9,78.5 424.7,76.6 425.3,77.6 426.5,77.2 428.8,77.6 429.4,70.4 430.2,85.5 430.8,77.6 432.7,77.6 433.4,86.9 434.1,60.8 434.4,76.7 434.8,70.3 435.4,77.6 435.9,77.6 436.6,87 437.3,72 437.9,77.6 439.9,77.6 440.5,65.6 441.3,86.1 441.9,77.6 443.3,77.6 444,91.9 444.7,64.8 445.4,77.6 447,77.6 447.7,62.3 448.4,90.5 448.8,79.2 449.2,99.2 450.2,77.6 450.9,77.6 451.5,87.4 452.3,63.7 452.9,77.6 454.3,77.6 454.9,60.2 455.3,75.5 455.6,46.4 456.4,96.8 456.7,79.7 457.1,95 457.7,77.6 457.7,77.6 458.3,84 459.1,69.9 459.7,77.6 461.6,77.6 462.2,75.4 462.9,79.6 463.6,77.6 465,77.6 465.6,79.1 466.4,76.3 467,77.6 468.9,77.6 469.5,76.6 470.3,78.4 470.9,77.6 472.8,77.6 473.4,78.5 474.2,77 474.8,77.6 476.6,77.6 477.3,76.7 478,78.2 478.7,77.6 480.8,77.6 481.4,76.7 482.2,78.4 482.8,77.6 484.3,77.6 485,75.4 485.7,80.6 486.3,77.6 487.8,77.6 488.4,71.7 489.1,82.1 489.8,77.6 490.7,77.6 491.3,70.4 492.1,83.3 492.7,77.6 494.6,77.6 495.2,85.3 496,71.6 496.6,77.6 497.1,77.6 497.7,70.8 498.5,84.8 499.1,77.6 500.6,77.6 501.2,84.3 502,70.3 502.6,77.6 503.4,77.6 504,72.6 504.8,82.6 505.4,77.6 507,77.6 507.6,80.5 508.4,74.2 509,77.6 510.4,77.6 511,75.9 511.8,79.7 512.4,77.6 514.1,77.6 514.8,79.1 515.5,75.6 516.1,77.6 517.5,77.6 518.1,75.6 518.9,79.4 519.5,77.6 521.4,77.6 522,79.5 522.8,75.7 523.4,77.6 525.2,77.6 525.9,76.6 526.6,79 527.2,77.6 528.4,77.6 529,78.5 529.8,76.8 530.4,77.6 532.1,77.6 532.7,76.7 533.5,78.4 534.1,77.6 535.3,77.6 536,78.4 536.7,76.8 536.7,77.6"/>
<polyline stroke="#ae70e8" stroke-width="0.7" points="408.4,77.6 408.4,77.6 409,51.2 409.7,98 410.3,77.6 411,77.6 411.6,74 412.4,81.2 413,77.6 414.2,77.6 414.7,74.7 415.5,80.5 416.1,77.6 417.3,77.6 417.9,74 418.6,81.2 419.2,77.6 420.4,77.6 421,74.7 421.7,80.5 422.3,77.6 423.5,77.6 424.1,74 424.9,81.2 425.4,77.6 426.2,77.6 426.7,71.6 427.3,77.6 429,77.6 429.6,57.2 430.4,89.6 431,77.6 432.6,77.6 433.2,68 434,88.4 434.6,77.6 437,77.6 437.6,104 438.3,56 438.9,77.6 440.6,77.6 441.2,116 441.9,46.4 442.5,77.6 444.2,77.6 444.8,101.6 445.5,39.2 446.1,77.6 447.8,77.6 448.3,41.6 449.1,111.2 449.6,77.6 451.1,77.6 451.7,35.6 452.4,108.8 453,77.6 455,77.6 455.5,58.4 456.3,99.2 456.8,77.6 458.6,77.6 459.2,92 459.9,68 460.5,77.6 462.2,77.6 462.8,89.6 463.5,72.8 464.1,77.6 465.8,77.6 466.4,84.8 467.1,74 467.7,77.6 469.4,77.6 470,81.9 470.6,77.6 471.8,76.5 473.5,78.5 475.3,76.8 477,77.6 477.6,74.7 478.4,83.6 479,77.6 480.6,77.6 481.2,74 482,87.2 482.6,77.6 484.2,77.6 484.8,71.6 485.6,104 486.2,77.6 487.8,77.6 488.4,56 489.2,89.6 489.8,77.6 491,77.6 491.5,30.8 492.1,77.6 492.2,77.6 492.8,101.6 493.4,77.6 494.3,77.6 494.9,36.8 495.5,77.6 495.8,77.6 496.4,112.4 497,77.6 497.4,77.6 498,42.8 498.6,77.6 499.4,77.6 500,114.8 501.1,56 501.7,77.6 503,77.6 503.6,99.2 504.3,68 504.9,77.6 506.6,77.6 507.2,87.2 507.9,58.4 508.5,77.6 510.2,77.6 510.8,82.4 511.5,66.8 512.1,77.6 513.8,77.6 514.4,81.2 515.1,68 515.7,77.6 517.8,77.6 518.4,71.6 519.2,80.5 519.8,77.6 521.4,77.6 522,74 522.6,77.6 525,77.6 525.6,74.7 526.2,77.6 527.4,76.5 528.7,78.4 530.3,76.5 532,78.6 533.7,77 535.5,77.6 536.1,92 536.8,48.8 536.7,77.6"/>
<polyline stroke="#e0a315" stroke-width="0.68" points="408.4,77.6 409,79 409.7,76.8 410.4,77.6 410.8,77.6 411.4,76.7 412.2,79 412.8,77.6 413.9,77.6 414.6,78.5 415.3,76.4 416,77.6 417.2,77.6 417.8,76.6 418.5,78.9 419.2,77.6 420.2,77.6 420.8,78.4 421.6,76.4 422.2,77.6 423.4,77.6 424,78.9 424.8,76.2 425.4,77.6 426.6,77.3 429.1,77.6 429.7,71.8 430.4,83.2 431.1,77.6 432.5,77.6 433.1,83.1 433.9,72.8 434.5,77.6 436.5,77.6 437.1,69.1 437.9,84.8 438.5,77.6 439.7,77.6 440.3,68.6 441.1,84.4 441.7,77.6 443.6,77.6 444.3,85.2 445,70.7 445.7,77.6 447.1,77.6 447.7,70.5 448.5,87.8 449.1,77.6 450.3,77.6 450.9,70.1 451.6,84.5 452.3,77.6 453.9,77.6 454.5,87.9 455.3,70.6 455.9,77.6 457.8,77.6 458.5,73.7 459.2,82 459.9,77.6 461.3,77.6 461.9,79.5 462.7,75.7 463.3,77.6 465.1,77.6 465.8,76.2 466.5,78.8 467.2,77.6 468.2,77.6 468.9,78.2 469.6,76.6 470.3,77.6 472.9,77.6 473.6,76.6 474.3,78.3 475,77.6 476.7,77.6 477.3,78.6 478.1,76.8 478.7,77.6 480.6,77.6 481.3,76.7 482,78.3 482.6,77.6 484.4,77.6 485,75.8 485.8,79.9 486.4,77.6 487.9,77.6 488.5,82.4 489.3,72.8 489.9,77.6 491.3,77.6 491.9,70.8 492.6,84.8 493.3,77.6 494,77.6 494.7,86 495.4,71.4 496.1,77.6 497.1,77.6 497.8,83.8 498.5,71.4 499.2,77.6 500.3,77.6 500.9,71.9 501.7,84 502.3,77.6 503.3,77.6 503.9,83.5 504.7,73.2 505.3,77.6 507.1,77.6 507.7,75.2 508.5,81.5 509.1,77.6 510.6,77.6 511.2,75.1 512,80.2 512.6,77.6 514.2,77.6 514.8,79.1 515.5,75.9 516.2,77.6 517.7,77.6 518.3,76.2 519,79 519.7,77.6 521.3,77.6 521.9,78.8 522.7,76.3 523.3,77.6 524.7,77.6 525.3,78.4 526.1,76.6 526.7,77.6 528.9,77.6 529.5,78.3 530.2,76.5 530.9,77.6 531.7,77.6 532.3,76.8 533.1,78.5 533.7,77.6 535.5,77.6 536.1,81.2 536.8,74.5 536.7,77.6"/>
</g>
<rect x="408.4" y="21.1" width="128.3" height="102.6" fill="none" stroke="#5c5c5c" stroke-width="1.1"/>
<path d="M434.1 123.7v-1.5M434.1 21.1v1.5M459.7 123.7v-1.5M459.7 21.1v1.5M485.4 123.7v-1.5M485.4 21.1v1.5M511 123.7v-1.5M511 21.1v1.5M408.4 36.4h1.5M536.7 36.4h-1.5M408.4 77.6h1.5M536.7 77.6h-1.5M408.4 118.8h1.5M536.7 118.8h-1.5" stroke="#555" stroke-width="0.8" fill="none"/>
<text class="t" text-anchor="end" x="405.2" y="39.8">2</text>
<text class="t" text-anchor="end" x="405.2" y="81">0</text>
<text class="t" text-anchor="end" x="405.2" y="122.2">−2</text>
<text class="t" text-anchor="middle" x="408.4" y="133.7">0.0</text>
<text class="t" text-anchor="middle" x="434.1" y="133.7">0.2</text>
<text class="t" text-anchor="middle" x="459.7" y="133.7">0.4</text>
<text class="t" text-anchor="middle" x="485.4" y="133.7">0.6</text>
<text class="t" text-anchor="middle" x="511" y="133.7">0.8</text>
<text class="t" text-anchor="middle" x="536.7" y="133.7">1.0</text>
<text class="i" style="font-size:10.2px" text-anchor="middle" x="472.2" y="146.2">s</text>
<text class="cap" text-anchor="middle" x="459.5" y="163.2">(c)</text>
<g transform="translate(392.2 74.4) rotate(-90)">
<text class="i" x="-20.2" y="0">q</text><text class="dots" x="-20.0" y="-6.0">...</text><text class="yl" x="-8.0" y="0">(rad/s)</text></g>
<rect x="396.7" y="5.5" width="144" height="11.8" rx="0.8" fill="#fff" stroke="#555" stroke-width="1.1"/>
<path d="M398.7 11.4h7.6" stroke="#5a5a5a" stroke-width="0.9"/>
<text class="lq" x="410" y="13.4">q</text><text class="ld" x="411" y="8.1">...</text><text class="ls" x="414.8" y="15.2">1</text>
<path d="M422.8 11.4h7.6" stroke="#ea5a56" stroke-width="0.9"/>
<text class="lq" x="434.5" y="13.4">q</text><text class="ld" x="435.5" y="8.1">...</text><text class="ls" x="439.3" y="15.2">2</text>
<path d="M446.9 11.4h7.6" stroke="#3580ea" stroke-width="0.9"/>
<text class="lq" x="459" y="13.4">q</text><text class="ld" x="460" y="8.1">...</text><text class="ls" x="463.8" y="15.2">3</text>
<path d="M471 11.4h7.6" stroke="#45b57c" stroke-width="0.9"/>
<text class="lq" x="483.5" y="13.4">q</text><text class="ld" x="484.5" y="8.1">...</text><text class="ls" x="488.3" y="15.2">4</text>
<path d="M495.1 11.4h7.6" stroke="#ae70e8" stroke-width="0.9"/>
<text class="lq" x="508" y="13.4">q</text><text class="ld" x="509" y="8.1">...</text><text class="ls" x="512.8" y="15.2">5</text>
<path d="M519.2 11.4h7.6" stroke="#e0a315" stroke-width="0.9"/>
<text class="lq" x="532.5" y="13.4">q</text><text class="ld" x="533.5" y="8.1">...</text><text class="ls" x="537.3" y="15.2">6</text></g>
<g><clipPath id="cd"><rect x="42.2" y="185.5" width="128.3" height="102.6"/></clipPath>
<g clip-path="url(#cd)" fill="none" stroke-linejoin="round">
<polyline stroke="#5a5a5a" stroke-width="0.6" points="42.2,240 42.8,240.8 43.5,239.1 44.3,250 45.3,240 46.1,240 46.7,240.8 47.5,239.4 48.1,240 50.8,240 51.5,239.2 52.2,240.6 52.9,240 54.9,240 55.5,241 56.3,239.1 56.9,240 57.9,240 58.5,239.4 59.3,240.8 59.9,240 62.9,240 63.5,241.3 64.3,239.1 64.9,240 66.5,240 67.1,238.5 67.9,242.1 68.5,240 70,240 70.6,242.3 71.4,237.8 72,240 73.8,240 74.4,238.5 75.2,242.1 75.8,240 77.1,240 77.8,237.9 78.5,241.5 79.1,240 81.2,240 81.9,237.7 82.6,241.5 83.3,240 84.3,240 85,241.7 85.7,238 86.4,240 87.9,240 88.5,238.2 89.3,241.4 89.9,240 92,240 92.6,241.5 93.4,238.4 94,240 95.7,240 96.4,238.5 97.1,241.3 97.8,240 98.7,240 99.3,240.8 100.1,239.1 100.7,240 102.3,240 102.9,239.3 103.7,240.6 104.3,240 106.2,240 106.8,239.2 107.6,240.6 108.2,240 108.7,240 109.3,239.2 110.1,241 110.7,240 111,240 112,246.9 112.8,239 113.5,240.9 114.1,240 116,240 116.7,238.6 117.4,241 118,240 118.8,240 119.4,241.4 120.2,239 120.8,240 122,240 122.6,238.8 123.4,242 124,240 124.8,240 125.4,238.1 126.2,241.5 126.8,240 128.1,240 128.7,241.9 129.5,238.2 130.1,240 131.3,240 131.9,242.1 132.7,237.6 133.3,240 135.1,240 135.8,238.5 136.5,241.7 137.2,240 138.4,240 139,242.2 139.7,238.1 140.4,240 142,240 142.6,238.6 143.4,242 144,240 147,240 147.6,242 148.4,238.8 149.1,239.9 149.9,235.1 150.7,239.9 151.5,239 152.3,241.6 152.9,240 153,240 154,235.6 154.7,240.9 155.4,239.1 156.1,240 156.6,240 157.6,235.8 158.6,240 159.2,240 159.8,239.3 160.6,241.2 161.2,240 164.1,240 164.7,241.1 165.5,239.1 166.2,246.9 167.1,240 167.9,240 168.5,239.1 169.3,240.6 169.9,240 170.5,240"/>
<polyline stroke="#ea5a56" stroke-width="0.6" points="42.2,240 42.8,241 43.5,238.8 44.8,243.3 45.8,240 46.4,240 47.1,241.4 47.8,238.9 48.5,240 50.9,240 51.5,240.9 52.3,239.2 52.9,240 53.4,240 54.4,235.1 55.1,241.3 55.8,238.5 56.5,240 57.9,240 58.5,241.9 59.3,238.3 59.9,240 62.6,240 63.3,237.8 64,242.3 64.6,240 66.9,240 67.6,243.4 68.3,237.5 69,240 70.5,240 71.1,243 71.9,237.5 72.5,240 73.8,240 74.4,237.6 75.2,243.3 75.8,240 77.1,240 77.7,237.3 78.5,243.1 79.1,240 81,240 81.7,243.5 82.4,236.6 83.1,240 84.5,240 85.1,236.4 85.9,243.4 86.5,240 88.5,240 89.1,242.7 89.9,237.3 90.5,240 92.2,240 92.8,237.3 93.6,242.7 94.2,240 96.2,240 96.8,241.6 97.6,237.9 98.2,240 99.3,240 100,241.2 100.7,238.8 101.4,240 102.8,240 103.4,239.2 104.1,240.8 104.8,240 106.4,240 107,241 107.8,238.9 108.4,240 109.4,240 110,239.2 110.8,240.9 111.4,240 112.1,240 112.7,238.7 113.5,240.9 114.1,240 115.7,240 116.3,241.2 117.1,239.1 117.7,240 119,240 119.7,238.7 120.4,241.7 121.1,240 121.7,240 122.4,237.8 123.1,242.2 123.8,240 125.1,240 125.8,242.2 126.5,237 127.1,240 128.5,240 129.2,237.6 129.9,242.4 130.6,240 131.8,240 132.4,241.9 133.1,237.1 133.8,240 134.8,240 135.5,238.3 136.2,242.1 136.9,240 138.9,240 139.5,237.8 140.3,242.2 140.9,240 142,240 142.6,241.8 143.4,239 144,240 146.8,240 147.4,238.3 148.2,241.6 148.8,240 150.9,240 151.5,239 152.3,241.6 152.9,240 154.4,240 155,238.8 155.8,241.2 156.4,240 159.1,240 159.7,240.9 160.5,238.9 161.1,240 164.2,240 164.8,241 165.1,240.1 165.5,244 166.2,239 166.8,240 167.4,240 168.4,235.6 168.8,239.9 169.1,239 169.8,240.7 170.5,240 170.5,240"/>
<polyline stroke="#3580ea" stroke-width="0.8" points="42.2,240 42.8,241.4 43.5,238 44.2,240 46.4,240 47,236.9 47.8,242.5 48.4,240 50.8,240 51.4,244.4 52.2,234.9 52.8,240 53.4,240 54.4,246.9 55.1,235.8 55.8,244.7 56.5,240 58.3,240 58.9,244.5 59.7,236.3 60.3,240 63,240 63.6,233.4 64.4,248.2 65,240 66.5,240 67.2,253.3 67.9,227 68.6,240 70.1,240 70.7,224.5 71.5,256.3 72.1,240 73.5,240 74.2,218 74.9,256.8 75.6,240 77.5,240 78.1,256.1 78.5,241.9 78.8,263.2 79.6,221.5 80.2,240 80.9,240 81.6,220.8 82.3,257.6 83,240 84.3,240 84.9,265.7 85.2,243.1 85.6,268 86.3,222 86.9,240 88.2,240 88.8,220.1 89.5,266.8 89.9,242.4 90.2,260 90.9,240 92.5,240 93.2,249.3 93.9,225.3 94.6,238.9 95.2,230.8 96.8,245.6 97.5,233 97.9,239.2 98.2,231.5 98.9,239.6 99.5,236.6 99.9,239.6 100.2,232 100.9,244.3 101.6,240 102.3,240 102.9,238.1 103.6,242.8 104.3,240 106.1,240 106.7,238.1 107.5,241.7 108.1,240 109.4,240 110,241.2 110.8,238.9 111.4,240 112.1,240 112.7,238.6 113.5,241.3 114.1,240 115.9,240 116.5,236.9 117.3,242.8 117.9,240 119.2,240 119.9,245.7 120.6,233.9 121.3,240 121.9,240 122.5,235.2 123.3,247.5 123.9,240 124.9,240 125.5,232.6 126.3,245.8 126.9,240 128,240 128.6,247 129.4,233.7 130,240 131.2,240 131.8,232.7 132.6,246.1 133.2,240 135,240 135.6,248.1 136.4,231.8 137,240 138.6,240 139.2,245.3 140,233.4 140.6,240 142,240 142.6,235.8 143.4,244.5 144,240 146.9,240 147.5,243.5 148.2,236.2 148.9,240 150.3,240 150.9,238.4 151.7,241.7 152.3,240 154.4,240 155,242.1 155.8,237.7 156.4,240 159.2,240 159.8,241.7 160.6,238.7 161.2,240 163.6,240 164.2,235.3 165,244.3 165.6,240 166.2,240 167.2,233.2 168.4,243.7 169.2,236.7 169.8,240 170.5,240"/>
<polyline stroke="#45b57c" stroke-width="0.8" points="42.2,240 42.8,241.8 43.5,238.4 44.2,240 46.2,240 46.9,237.9 47.6,241.7 48.3,240 51.1,240 51.8,241.7 52.5,237.6 53.2,240 54.7,240 55.3,238.1 56.1,241.9 56.7,240 58,240 58.6,241.6 59.4,238.2 60,240 63.1,240 63.7,230.1 64.5,247.9 65.1,240 66.3,240 66.9,255.2 67.7,222.4 68,238.2 68.4,224.9 69.1,256 70.1,240 70.2,240 70.8,231.6 71.6,249.2 72.2,240 74,240 74.6,248.8 75.4,230.9 76,240 77.7,240 78.3,228.6 79.1,247.3 79.7,240 81.2,240 81.8,226.4 82.6,253.3 83.2,240 84.3,240 84.9,251.8 85.7,225.2 86.3,240 88.5,240 89.1,252.7 89.5,241.5 89.9,264.4 90.6,205.6 90.9,237.8 91.3,222.1 91.9,240 92.2,240 92.8,244.5 93.5,234.8 94.2,240 96.2,240 96.8,237.6 97.6,241.7 98.2,240 98.7,240 99.4,238.4 100.1,241.6 100.7,240 102.4,240 103,241.1 103.8,238.9 104.4,240 106.4,240 107.1,239.2 107.8,241.1 108.5,240 108.8,240 109.5,241.2 110.2,238.8 110.9,240 112,240 112.6,238.8 113.4,241.3 114,240 115.9,240 116.6,240.9 117.3,239.1 118,240 118.6,240 119.2,237.4 119.9,243 120.6,240 121.9,240 122.5,245.7 123.3,233.9 123.9,240 124.7,240 125.3,234 126.1,245 126.7,240 128,240 128.6,232.2 129.4,247.7 130,240 131.6,240 132.2,248.6 133,232.7 133.6,240 135.2,240 135.8,231.2 136.6,249.1 137.2,240 138.9,240 139.6,245.4 140.3,234.2 140.9,240 142,240 142.6,238 143.4,242.6 144,240 147,240 147.7,242.1 148.4,238 149.1,240 150.8,240 151.4,237.9 152.2,241.9 152.8,240 154.1,240 154.7,241.4 155.5,238.4 156.1,240 158.9,240 159.5,238.9 160.3,241.2 160.9,240 163.9,240 164.5,238.9 165.3,241 165.9,240 168.1,240 168.7,241.8 169.5,238.5 170.1,240 170.5,240"/>
<polyline stroke="#ae70e8" stroke-width="0.7" points="42.2,240 42.2,240 42.8,208 43.4,240 43.4,240 44,260.8 44.7,235.6 45.3,240 47,240 47.6,248.8 48.3,236.3 48.9,240 51,240 51.6,235.6 52.4,245.2 53,240 54.6,240 55.2,227.2 56,245.2 56.6,240 58.2,240 58.8,235.6 59.6,245.2 60.2,240 63,240 63.6,228.4 64.4,263.2 65,240 66.6,240 67.2,220 68,272.8 68.6,240 70.2,240 70.8,211.6 71.6,263.2 72.2,240 74.3,240 74.9,209.2 75.6,263.2 76.2,240 77.4,240 78,209.2 78.8,269.2 79.4,240 81,240 81.6,212.8 82.4,263.2 83,240 84.6,240 85.2,200.8 86,268 86.6,240 88.7,240 89.3,215.2 90,265.6 90.6,240 92.3,240 92.9,224.8 93.7,258.4 94.2,240 95.9,240 96.5,228.4 97.3,266.8 97.8,240 99,240 99.6,232 100.4,263.2 101,240 102.6,240 103.2,237.3 104,248.8 104.6,240 107,240 107.6,247.6 108.2,240 109.9,240 110.5,248.8 111,240 113,240 113.6,268 114.2,240 115.8,240 116.4,222.4 117.2,253.6 117.8,240 119,240 119.5,228.4 120.1,240 120.2,240 120.8,266.8 121.4,240 121.8,240 122.4,194.8 123,240 123.8,240 124.4,256 125.5,194.8 126.1,240 126.7,240 127.3,274 127.8,240 128.3,240 128.9,203.2 129.5,240 129.8,240 130.4,271.6 131,240 131.4,240 132,200.8 132.6,240 132.9,240 133.5,274 134.1,240 135,240 135.6,232 136.4,269.2 137,240 138.6,240 139.2,220 139.8,240 140.1,240 140.7,277.6 141.3,240 142.2,240 142.8,235.6 143.4,240 144.2,240 144.8,248.8 145.4,240 147,240 147.6,226 148.4,246.4 149,240 150.6,240 151.2,228.4 152,244 152.6,240 154.2,240 154.8,235.6 155.6,243.5 156.2,240 157.4,239.3 158.9,240.8 160.2,239 161.7,240.7 163.1,238.8 164.6,240 165.2,256 165.8,240 167,240 167.6,258.4 168.2,240 168.9,240 169.5,253.6 170.2,215.2 170.5,240"/>
<polyline stroke="#e0a315" stroke-width="0.68" points="42.2,240 42.8,237.7 43.5,242.5 44.2,240 46,240 46.6,242.8 47.4,237.1 48,240 51.1,240 51.7,238.4 52.4,241.2 53.1,240 54.4,240 55,241.7 55.8,238.5 56.4,240 58.5,240 59.1,238.4 59.9,242 60.5,240 63,240 63.7,247.4 64.4,232.4 65.1,240 66.3,240 67,248.8 67.7,232.4 68.3,240 69.9,240 70.5,232.4 71.3,248 71.9,240 73.6,240 74.2,246.1 75,232.3 75.6,240 77.7,240 78.3,233.1 79,245.3 79.7,240 80.9,240 81.5,246.2 82.2,232.2 82.9,240 84.3,240 84.9,245.8 85.7,233 86.3,240 88.1,240 88.8,234.7 89.5,246.6 90.2,240 92.3,240 92.9,243.8 93.7,235.4 94.3,240 95.9,240 96.5,242.2 97.3,237.9 97.9,240 98.8,240 99.4,242 100.2,238.2 100.8,240 102.4,240 103,238.9 103.7,241 104.4,240 106.4,240 107,241 107.8,238.6 108.4,240 109.3,240 110,238.7 110.7,241.7 111.4,240 112.2,240 112.8,238.9 113.6,241.2 114.2,240 115.6,240 116.2,231.3 117,246.3 117.6,240 119.2,240 119.8,246.2 120.6,233.7 121.2,240 121.8,240 122.4,249 123.2,232.4 123.8,240 125,240 125.6,234.6 126.4,248.9 127,240 128.4,240 129,234.6 129.7,245.3 130.4,240 131.8,240 132.4,248.7 133.1,231.4 133.8,240 134.9,240 135.5,234.7 136.3,245.4 136.9,240 138.7,240 139.4,232.1 140.1,247 140.7,240 141.9,240 142.5,231.6 143.3,247.8 143.9,240 147.1,240 147.7,243.7 148.5,236.8 149.1,240 150.5,240 151.2,238.3 151.9,241.8 152.5,240 154.1,240 154.7,241.7 155.4,238.5 156.1,240 159.2,240 159.8,240.9 160.6,239.2 161.2,240 163.5,240 164.1,238.3 164.9,241.7 165.5,240 168.4,240 169,243 169.8,236.6 170.4,240 170.5,240"/>
</g>
<rect x="42.2" y="185.5" width="128.3" height="102.6" fill="none" stroke="#5c5c5c" stroke-width="1.1"/>
<path d="M67.9 288.1v-1.5M67.9 185.5v1.5M93.5 288.1v-1.5M93.5 185.5v1.5M119.2 288.1v-1.5M119.2 185.5v1.5M144.8 288.1v-1.5M144.8 185.5v1.5M42.2 199.1h1.5M170.5 199.1h-1.5M42.2 219.5h1.5M170.5 219.5h-1.5M42.2 240h1.5M170.5 240h-1.5M42.2 260.4h1.5M170.5 260.4h-1.5M42.2 280.9h1.5M170.5 280.9h-1.5" stroke="#555" stroke-width="0.8" fill="none"/>
<text class="t" text-anchor="end" x="39" y="202.5">0.6</text>
<text class="t" text-anchor="end" x="39" y="222.9">0.3</text>
<text class="t" text-anchor="end" x="39" y="243.4">0.0</text>
<text class="t" text-anchor="end" x="39" y="263.8">−0.3</text>
<text class="t" text-anchor="end" x="39" y="284.3">−0.6</text>
<text class="t" text-anchor="middle" x="42.2" y="298.1">0.0</text>
<text class="t" text-anchor="middle" x="67.9" y="298.1">0.2</text>
<text class="t" text-anchor="middle" x="93.5" y="298.1">0.4</text>
<text class="t" text-anchor="middle" x="119.2" y="298.1">0.6</text>
<text class="t" text-anchor="middle" x="144.8" y="298.1">0.8</text>
<text class="t" text-anchor="middle" x="170.5" y="298.1">1.0</text>
<text class="i" style="font-size:10.2px" text-anchor="middle" x="106" y="310.6">s</text>
<text class="cap" text-anchor="middle" x="92.4" y="327.6">(d)</text>
<g transform="translate(16 238.8) rotate(-90)">
<text class="i" x="-20.2" y="0">q</text><text class="dots" x="-20.0" y="-6.0">...</text><text class="yl" x="-8.0" y="0">(rad/s)</text></g>
<rect x="30.5" y="169.5" width="144" height="11.8" rx="0.8" fill="#fff" stroke="#555" stroke-width="1.1"/>
<path d="M32.5 175.5h7.6" stroke="#5a5a5a" stroke-width="0.9"/>
<text class="lq" x="43.8" y="177.4">q</text><text class="ld" x="44.8" y="172.1">...</text><text class="ls" x="48.6" y="179.3">1</text>
<path d="M56.6 175.5h7.6" stroke="#ea5a56" stroke-width="0.9"/>
<text class="lq" x="68.3" y="177.4">q</text><text class="ld" x="69.3" y="172.1">...</text><text class="ls" x="73.1" y="179.3">2</text>
<path d="M80.7 175.5h7.6" stroke="#3580ea" stroke-width="0.9"/>
<text class="lq" x="92.8" y="177.4">q</text><text class="ld" x="93.8" y="172.1">...</text><text class="ls" x="97.6" y="179.3">3</text>
<path d="M104.8 175.5h7.6" stroke="#45b57c" stroke-width="0.9"/>
<text class="lq" x="117.3" y="177.4">q</text><text class="ld" x="118.3" y="172.1">...</text><text class="ls" x="122.1" y="179.3">4</text>
<path d="M128.9 175.5h7.6" stroke="#ae70e8" stroke-width="0.9"/>
<text class="lq" x="141.8" y="177.4">q</text><text class="ld" x="142.8" y="172.1">...</text><text class="ls" x="146.6" y="179.3">5</text>
<path d="M153 175.5h7.6" stroke="#e0a315" stroke-width="0.9"/>
<text class="lq" x="166.3" y="177.4">q</text><text class="ld" x="167.3" y="172.1">...</text><text class="ls" x="171.1" y="179.3">6</text></g>
<g><clipPath id="ce"><rect x="225.8" y="185.5" width="128.5" height="102.6"/></clipPath>
<g clip-path="url(#ce)" fill="none" stroke-linejoin="round">
<polyline stroke="#5a5a5a" stroke-width="0.6" points="225.8,240.1 226.4,241 227.1,239.4 227.8,240.1 228.2,240.1 228.9,240.8 229.2,240.2 229.6,247.6 230.3,239.5 230.9,240.1 234.1,240.1 234.8,240.6 235.5,239.4 236.2,240.1 237.5,240.1 238.1,240.8 238.9,239.4 239.5,240.1 240.9,240.1 241.5,239.5 242.2,240.5 242.9,240.1 243.9,240.1 244.6,241 245.3,239.4 245.9,240.1 246.9,240.1 247.5,239.4 248.3,241.3 248.9,240.1 249.7,240.1 250.3,239 251.1,241 251.7,240.1 253.4,240.1 254,239.1 254.7,241.5 255.4,240.1 257.3,240.1 257.9,238.9 258.7,241.4 259.3,240.1 260.6,240.1 261.2,239 262,241 262.6,240.1 264.2,240.1 264.8,241.4 265.6,239.3 266.2,240.1 268.1,240.1 268.8,241.2 269.5,238.9 270.2,240.1 271.8,240.1 272.5,239 273.2,241.1 273.8,240.1 275.3,240.1 275.9,241.2 276.7,238.9 277.3,240.1 278.1,240.1 278.8,241 279.5,239 280.2,240.1 281.5,240.1 282.1,239.2 282.9,240.9 283.5,240.1 285.4,240.1 286,240.7 286.8,239.7 287.5,245.2 288.5,240.1 289.4,240.1 290.1,239.6 290.8,240.6 291.2,240.2 291.6,245.9 292.5,240.1 293.1,240.1 293.7,239.4 294.5,240.7 295.1,240.1 296.3,240.1 296.9,239.4 297.7,240.8 298.3,240.1 299.1,240.1 299.7,240.9 300.5,239.3 301.1,240.1 302.5,240.1 303.1,239.4 303.9,241.1 304.5,240.1 306.8,240.1 307.5,241.3 308.2,239.3 308.9,240.1 311.1,240.1 311.7,241.5 312.5,238.9 313.1,240.1 314.7,240.1 315.3,241.2 316.1,238.9 316.7,240.1 318.3,240.1 319,239.2 319.7,241.4 320.3,240.1 323,240.1 323.6,241.3 324.3,238.7 325,240.1 326.6,240.1 327.2,241 328,239.1 328.6,240.1 330.3,240.1 330.9,239.2 331.7,241.3 332.3,240.1 333.2,240.1 333.9,241 334.6,239.1 335.3,240.1 337.5,240.1 338.1,239.5 338.9,241 339.6,235.8 340.5,240.1 340.8,240.1 341.4,240.9 342.2,235.4 342.5,240 342.9,239.6 343.5,240.1 345.4,240.1 346,239.4 346.8,240.6 347.4,240.1 348,240.1 349,244.5 349.4,240.2 349.7,240.7 350.4,239.6 351.1,240.1 351.4,240.1 352.1,239.5 352.8,240.8 353.5,240.1 354.3,240.1"/>
<polyline stroke="#ea5a56" stroke-width="0.6" points="225.8,240.1 226.4,241.1 227.1,238.9 228.3,243.5 228.6,240.2 229,241.1 229.7,239.3 230.3,240.1 231.5,239.7 234,240.1 234.6,239.2 235.4,241.1 236,240.1 237.9,240.1 238.5,241.1 239.3,239.1 239.9,240.1 240.9,240.1 241.5,239 242.3,241.4 242.9,240.1 244.1,240.1 244.7,242 245.5,238.4 246.1,240.1 247.5,240.1 248.1,238.3 248.9,242.5 249.5,240.1 249.9,240.1 250.5,242.4 251.3,238.6 251.9,240.1 253.8,240.1 254.5,242.4 255.2,238.7 255.9,240.1 257.4,240.1 258,242 258.8,238.6 259.4,240.1 260.9,240.1 261.6,242.5 262.3,238.4 262.9,240.1 264.3,240.1 264.9,237.9 265.7,241.7 266.3,240.1 268.3,240.1 269,241.7 269.7,237.9 270.3,240.1 271.7,240.1 272.4,241.5 273.1,238.5 273.8,240.1 275.3,240.1 275.9,238.4 276.7,241.9 277.3,240.1 278.5,240.1 279.1,241.3 279.9,238.7 280.5,240.1 281.7,240.1 282.3,239.1 283.1,241.3 283.7,240.1 285.8,240.1 286.5,240.6 287.2,239.5 288,244 288.9,240.1 289.5,240.1 290.2,240.9 290.9,239.3 291.6,240.1 292.6,240.1 293.2,239.4 294,240.8 294.6,240.1 296.1,240.1 296.7,241 297.5,239.2 298.1,240.1 299.3,240.1 299.9,239 300.7,240.9 301.3,240.1 302.5,240.1 303.1,239 303.8,241.4 304.5,240.1 307.4,240.1 308,241.6 308.8,239 309.4,240.1 310.8,240.1 311.4,241.9 312.2,238.2 312.8,240.1 314.7,240.1 315.4,238.6 316.1,241.6 316.7,240.1 318,240.1 318.6,238.7 319.3,241.5 320,240.1 323,240.1 323.6,241.3 324.4,239.1 325,240.1 326.7,240.1 327.4,239.1 328.1,240.9 328.8,240.1 329.8,240.1 330.4,240.9 331.2,239 331.8,240.1 333.2,240.1 333.9,239 334.6,241.3 335.3,240.1 337.1,240.1 337.7,240.9 338.5,239.3 339.1,240.1 341,240.1 341.7,239 342.4,240.8 343.1,240.1 345.8,240.1 346.4,241.1 347.2,239.3 347.9,243.5 348.9,240.1 349,240.1 349.6,240.9 350.3,238 350.7,240 351,239.3 352.1,240.7 352.9,239.1 353.5,240.1 354.3,240.1"/>
<polyline stroke="#3580ea" stroke-width="0.8" points="225.8,240.1 226.4,241.8 227.1,238.7 227.8,240.1 228.3,240.1 228.9,241.7 229.7,238.4 230.3,240.1 231.5,239.8 233.9,240.1 234.6,243.3 235.3,237 236,240.1 236.4,240.1 237.4,244 238.5,236.8 239.3,242.8 239.9,240.1 241.1,240.1 241.7,236.8 242.5,242.8 243.1,240.1 244,240.1 244.6,243.2 245.4,237.4 246,240.1 247,240.1 247.6,246.3 248.3,236.5 249,240.1 250.1,240.1 250.7,230.6 251.4,246.4 252.1,240.1 253.5,240.1 254.1,249.7 254.9,231.9 255.5,240.1 257.3,240.1 257.9,230.7 258.7,250.9 259.3,240.1 261,240.1 261.6,256 262.4,225.6 263,240.1 264.1,240.1 264.8,224.7 265.5,255.5 266.2,240.1 268.1,240.1 268.7,253.2 269.5,224.6 270.1,240.1 271.5,240.1 272.2,227.6 272.9,258.8 273.6,240.1 275.4,240.1 276,253.2 276.8,221.2 277.4,240.1 278.4,240.1 279.1,226.1 279.8,257.4 280.2,242.2 280.6,258.4 281.6,240.1 281.7,240.1 282.3,253.7 283.1,225 283.7,240.1 284.4,240.1 285.4,228.4 285.8,239.7 286.1,237.2 286.8,242.5 287.6,229.1 288.5,240.1 289.1,240.1 289.7,238.9 290.5,242 291.4,236.8 292.4,240.1 292.9,240.1 293.5,241.9 294.3,238.3 294.9,240.1 295.8,240.1 296.4,238.9 297.1,241.6 297.8,240.1 299.1,240.1 299.7,237.7 300.5,242.9 301.1,240.1 302.4,240.1 303,244.6 303.8,236 304.4,240.1 307.2,240.1 307.8,243.4 308.6,235.9 309.2,240.1 311,240.1 311.6,244.1 312.4,235.5 313,240.1 314.6,240.1 315.2,235.9 316,244.3 316.6,240.1 317.8,240.1 318.4,244.2 319.2,235.5 319.8,240.1 322.5,240.1 323.1,236.9 323.9,243.7 324.5,240.1 326.7,240.1 327.4,242.2 328.1,237.4 328.7,240.1 330.2,240.1 330.8,237.6 331.6,242.5 332.2,240.1 333.9,240.1 334.5,242.3 335.3,238.8 335.9,240.1 337.4,240.1 338.1,241.6 338.8,238.8 339.5,240.1 340.8,240.1 341.4,238.3 342.2,241.6 342.8,240.1 345.8,240.1 346.4,242.3 347.1,237.7 347.8,240.1 348,240.1 349,235.6 349.4,239.6 349.7,236.3 350.4,243.3 351.1,240.1 351.4,240.1 352,238.2 352.8,243.2 353.4,240.1 354.3,240.1"/>
<polyline stroke="#45b57c" stroke-width="0.8" points="225.8,240.1 226.4,240.9 227.1,238.9 227.8,240.1 227.8,240.1 228.4,241.1 229.2,239 229.8,240.1 231,239.8 232.3,240.5 233.7,240.1 234.3,238.8 235.1,241.1 235.7,240.1 237.4,240.1 238.1,239 238.8,240.9 239.5,240.1 241.2,240.1 241.8,241.3 242.6,239.3 243.2,240.1 243.8,240.1 244.4,235.9 245.2,246.1 245.8,240.1 247.3,240.1 247.9,231.3 248.7,247 249.3,240.1 250.2,240.1 250.8,231.5 251.6,248.3 252,241.1 252.3,254.8 253,224.8 253.8,239.5 254.6,235 255.4,246.4 256,240.1 257.5,240.1 258.1,232.4 258.9,246.8 259.5,240.1 260.8,240.1 261.4,234 262.2,247.1 262.8,240.1 264.6,240.1 265.2,248.3 266,234.3 266.6,240.1 268.3,240.1 268.9,252.1 269.7,230 270.3,240.1 271.5,240.1 272.1,217.2 272.9,262.5 273.3,242.6 273.6,260.8 274.4,212.8 275.8,245 276.6,233.3 277.2,240.1 278.2,240.1 278.8,237.9 279.6,242.1 280.2,240.1 281.6,240.1 282.3,242 283,238.3 283.6,240.1 285.5,240.1 286.1,239 286.9,241.2 287.5,240.1 289.5,240.1 290.1,239.3 290.9,241.1 291.5,240.1 293.1,240.1 293.7,239 294.5,241 295.1,240.1 296.1,240.1 296.7,241 297.5,239.3 298.1,240.1 299,240.1 299.6,239.3 300.4,241 301,240.1 302.3,240.1 302.9,241.7 303.7,238.8 304.3,240.1 307.1,240.1 307.7,237.7 308.5,243.8 309.1,240.1 310.6,240.1 311.2,242.7 312,237.8 312.6,240.1 314.7,240.1 315.3,235.7 316.1,243.7 316.7,240.1 318.1,240.1 318.7,236.3 319.5,243.1 320.1,240.1 322.6,240.1 323.3,237.9 324,242.7 324.7,240.1 326.6,240.1 327.2,241.6 328,238.5 328.6,240.1 330.2,240.1 330.8,238.4 331.5,241.3 332.2,240.1 333.6,240.1 334.2,241.2 335,239 335.6,240.1 337.4,240.1 338,238.9 338.8,241.3 339.4,240.1 341,240.1 341.6,241 342.4,239 343,240.1 345.6,240.1 346.2,239.4 347,241.3 347.6,240.1 348.8,240.1 349.4,241 350.2,239.1 350.8,240.1 351.3,240.1 351.9,238.7 352.7,241 353.3,240.1 354.3,240.1"/>
<polyline stroke="#ae70e8" stroke-width="0.7" points="225.8,240.1 225.8,240.1 226.4,208 227,240.1 228,240.1 228.6,235.6 229.4,250 230,240.1 231.2,239.1 232.4,241 234,240.1 234.6,233.2 235.4,246.4 236,240.1 237.6,240.1 238.2,234.4 239,245.9 239.6,240.1 241.2,240.1 241.8,232.7 242.6,246.9 243.2,240.1 244.8,240.1 245.4,234.4 246.1,245.9 246.7,240.1 247.2,240.1 247.8,228.4 248.5,265.6 249.1,240.1 250.8,240.1 251.4,215.2 252.1,256 252.7,240.1 254.4,240.1 255,214 255.7,258.2 256.3,240.1 258,240.1 258.6,216.4 259.3,261.8 259.9,240.1 261.6,240.1 262.2,217.6 262.9,257.2 263.5,240.1 265.2,240.1 265.8,222.4 266.5,256.5 267.1,240.1 268.8,240.1 269.4,223.6 270.1,261.8 270.7,240.1 272,240.1 272.5,212.8 273.3,260.8 273.8,240.1 275.3,240.1 275.9,206.8 276.7,254.6 277.2,240.1 279,240.1 279.5,263.4 280.1,240.1 280.4,240.1 280.9,205.6 281.5,240.1 282.6,240.1 283.1,255 283.7,240.1 284,240.1 284.5,229.6 285.1,240.1 286.4,240.1 287,274.7 287.6,240.1 288,240.1 288.6,238 289.2,240.1 290,240.1 290.6,256 291.2,240.1 293.6,240.1 294.2,263.2 294.8,240.1 296,240.1 296.5,220 297.1,240.1 297.2,240.1 297.8,260.8 298.4,240.1 299.3,240.1 299.9,196 300.5,240.1 300.8,240.1 301.4,253.6 302,240.1 302.4,240.1 303,216.4 303.6,240.1 304.4,240.1 305,266.8 305.7,197.2 306.3,240.1 308,240.1 308.6,263.2 309.3,204.4 309.9,240.1 311.6,240.1 312.2,268 312.9,213.8 313.5,240.1 315.2,240.1 315.8,265.6 316.5,205.6 317.1,240.1 318,240.1 318.6,232 319.4,256 320,240.1 321.2,240.1 321.8,265.6 322.4,240.1 322.8,240.1 323.4,219 324,240.1 324.1,240.1 324.7,277.6 325.2,240.1 326.4,240.1 327,232 327.6,240.1 328.4,240.1 329,256 329.6,240.1 330,240.1 330.6,227.2 331.2,240.1 332,240.1 332.6,253.6 333.2,240.1 333.6,240.1 334.2,230.8 334.8,240.1 335.6,240.1 336.2,248.8 336.8,240.1 337.2,240.1 337.8,234.4 338.4,240.1 339.2,240.1 339.8,245.2 340.4,240.1 340.8,240.1 341.4,228.4 342,240.1 343.2,238.9 344.8,241.2 346.4,240.1 347,248.8 347.6,240.1 349.5,240.1 350.1,250.7 350.7,240.1 352.4,240.1 353,247.6 353.7,209.2 354.3,240.1 354.3,240.1"/>
<polyline stroke="#e0a315" stroke-width="0.68" points="225.8,240.1 226.4,241.9 227.1,238.2 227.8,240.1 228.3,240.1 229,245.1 229.7,237.1 230.4,240.1 231.6,239.8 234,240.1 234.6,235 235.3,246 236,240.1 237.8,240.1 238.4,245.9 239.2,234.5 239.8,240.1 240.9,240.1 241.5,234.3 242.3,244.4 242.9,240.1 244.3,240.1 244.9,235.2 245.7,244.8 246.3,240.1 247,240.1 247.6,245.2 248.4,233.9 249,240.1 249.8,240.1 250.4,236.3 251.2,244 251.8,240.1 253.5,240.1 254.1,235.2 254.9,245.3 255.5,240.1 257,240.1 257.7,235.8 258.4,246 259.1,240.1 260.8,240.1 261.5,246.7 262.2,233.9 262.9,240.1 264.7,240.1 265.3,234.9 266.1,246.3 266.7,240.1 268.2,240.1 268.8,236.4 269.6,244.2 270.2,240.1 271.4,240.1 272,234.4 272.8,244.4 273.4,240.1 275.5,240.1 276.1,244.7 276.9,233.8 277.5,240.1 278.2,240.1 278.8,233.8 279.6,246.1 280.2,240.1 281.9,240.1 282.6,246.5 283.3,234.7 283.9,240.1 285.5,240.1 286.1,238.6 286.9,241.6 287.5,240.1 289.3,240.1 290,238.9 290.7,241.7 291.4,240.1 292.6,240.1 293.2,241.1 294,239.2 294.6,240.1 295.6,240.1 296.3,242.3 297,237.1 297.7,240.1 299.3,240.1 299.9,243.1 300.7,237.2 301.3,240.1 302.3,240.1 302.9,236.8 303.7,244 304.3,240.1 307,240.1 307.6,243.2 308.4,235.9 309,240.1 310.5,240.1 311.1,234.7 311.9,244.6 312.5,240.1 314.5,240.1 315.1,244 315.9,236.5 316.5,240.1 317.7,240.1 318.3,234.8 319.1,245.6 319.7,240.1 322.6,240.1 323.2,243.8 324,236.2 324.6,240.1 326.4,240.1 327,243.7 327.8,237 328.4,240.1 330.1,240.1 330.7,242.3 331.4,237.7 332.1,240.1 333.9,240.1 334.5,238.5 335.3,241.7 335.9,240.1 337.5,240.1 338.1,240.9 338.9,239 339.5,240.1 340.6,240.1 341.3,239.3 342,241.2 342.6,240.1 345.3,240.1 345.9,241.3 346.7,238.6 347.3,240.1 348.6,240.1 349.2,238.3 349.9,241.2 350.6,240.1 351.7,240.1 352.3,242.6 353.1,236.9 353.7,240.1 354.3,240.1"/>
</g>
<rect x="225.8" y="185.5" width="128.5" height="102.6" fill="none" stroke="#5c5c5c" stroke-width="1.1"/>
<path d="M251.5 288.1v-1.5M251.5 185.5v1.5M277.2 288.1v-1.5M277.2 185.5v1.5M302.9 288.1v-1.5M302.9 185.5v1.5M328.6 288.1v-1.5M328.6 185.5v1.5M225.8 198.9h1.5M354.3 198.9h-1.5M225.8 240.1h1.5M354.3 240.1h-1.5M225.8 281.3h1.5M354.3 281.3h-1.5" stroke="#555" stroke-width="0.8" fill="none"/>
<text class="t" text-anchor="end" x="222.6" y="202.3">0.3</text>
<text class="t" text-anchor="end" x="222.6" y="243.5">0.0</text>
<text class="t" text-anchor="end" x="222.6" y="284.7">−0.3</text>
<text class="t" text-anchor="middle" x="225.8" y="298.1">0.0</text>
<text class="t" text-anchor="middle" x="251.5" y="298.1">0.2</text>
<text class="t" text-anchor="middle" x="277.2" y="298.1">0.4</text>
<text class="t" text-anchor="middle" x="302.9" y="298.1">0.6</text>
<text class="t" text-anchor="middle" x="328.6" y="298.1">0.8</text>
<text class="t" text-anchor="middle" x="354.3" y="298.1">1.0</text>
<text class="i" style="font-size:10.2px" text-anchor="middle" x="289.8" y="310.6">s</text>
<text class="cap" text-anchor="middle" x="276.4" y="327.6">(e)</text>
<g transform="translate(199.6 238.8) rotate(-90)">
<text class="i" x="-20.2" y="0">q</text><text class="dots" x="-20.0" y="-6.0">...</text><text class="yl" x="-8.0" y="0">(rad/s)</text></g>
<rect x="214.1" y="169.1" width="144" height="11.8" rx="0.8" fill="#fff" stroke="#555" stroke-width="1.1"/>
<path d="M216.1 175.1h7.6" stroke="#5a5a5a" stroke-width="1.5" opacity="0.6"/>
<text class="lq" x="227.4" y="177">q</text><text class="ld" x="228.4" y="171.7">...</text><text class="ls" x="232.2" y="178.9">1</text>
<path d="M240.2 175.1h7.6" stroke="#ea5a56" stroke-width="1.5" opacity="0.6"/>
<text class="lq" x="251.9" y="177">q</text><text class="ld" x="252.9" y="171.7">...</text><text class="ls" x="256.7" y="178.9">2</text>
<path d="M264.3 175.1h7.6" stroke="#3580ea" stroke-width="1.5" opacity="0.6"/>
<text class="lq" x="276.4" y="177">q</text><text class="ld" x="277.4" y="171.7">...</text><text class="ls" x="281.2" y="178.9">3</text>
<path d="M288.4 175.1h7.6" stroke="#45b57c" stroke-width="1.5" opacity="0.6"/>
<text class="lq" x="300.9" y="177">q</text><text class="ld" x="301.9" y="171.7">...</text><text class="ls" x="305.7" y="178.9">4</text>
<path d="M312.5 175.1h7.6" stroke="#ae70e8" stroke-width="1.5" opacity="0.6"/>
<text class="lq" x="325.4" y="177">q</text><text class="ld" x="326.4" y="171.7">...</text><text class="ls" x="330.2" y="178.9">5</text>
<path d="M336.6 175.1h7.6" stroke="#e0a315" stroke-width="1.5" opacity="0.6"/>
<text class="lq" x="349.9" y="177">q</text><text class="ld" x="350.9" y="171.7">...</text><text class="ls" x="354.7" y="178.9">6</text></g>
<g><clipPath id="cf"><rect x="409.5" y="185.7" width="128.1" height="102.4"/></clipPath>
<g clip-path="url(#cf)" fill="none" stroke-linejoin="round">
<polyline stroke="#5a5a5a" stroke-width="0.6" points="409.5,236 410.1,236.7 410.8,235.4 411.5,236 412.1,236 412.7,235.4 413.4,240.4 413.8,236.1 414.2,236.7 414.8,236 415.7,236 416.3,236.6 417.1,235.4 417.7,236 419.4,236 420.1,236.7 420.8,235.4 421.5,236 422.7,236 423.3,235.4 424.1,236.5 424.7,236 426.6,236 427.2,236.5 428,235.5 428.6,236 430.1,236 430.7,236.7 431.5,235.4 432.1,236 433.6,236 434.2,236.8 435,235.2 435.6,236 437.2,236 437.9,236.8 438.6,235.1 439.2,236 441.2,236 441.8,235.3 442.6,236.7 443.2,236 444.2,236 444.9,237 445.6,235.1 446.3,236 448.4,236 449,235.3 449.8,236.9 450.4,236 452,236 452.7,236.9 453.4,235.2 454.1,236 455.4,236 456,235.4 456.8,236.8 457.4,236 458.6,236 459.2,236.5 460,235.5 460.6,236 461.2,236 461.8,235.5 462.6,236.6 463.2,236 464.3,236 464.9,236.6 465.6,235.4 466.3,236 467.2,236 467.8,236.4 468.6,235.5 469.2,236 471.3,236 471.9,236.5 472.6,235.5 473.9,241.6 474.9,236 474.9,236 475.5,235.4 476.3,244 476.6,236.1 477,236.6 477.6,236 479.1,236 479.7,236.6 480.5,235.5 481.1,236 482,236 482.6,236.7 483.4,235.3 484,236 485.6,236 486.2,236.5 486.9,235.5 487.6,236 488.4,236 489,235.3 489.8,236.9 490.4,236 491.3,236 492,236.9 492.7,235.3 493.4,236 494.8,236 495.4,236.7 496.2,235.2 496.8,236 498.8,236 499.4,236.9 500.1,235.3 500.8,236 502.2,236 502.8,236.8 503.6,235.4 504.2,236 505.4,235.6 506.6,236.4 507.8,236 508.4,236.8 509.2,235.4 509.8,236 511.3,236 511.9,235.1 512.7,236.6 513.3,236 514.4,236 515,236.7 515.8,235.3 516.4,236 518.2,236 518.8,235.4 519.6,236.6 520.2,236 521.6,236 522.2,236.6 523,235.3 523.6,236 524.6,236 525.3,235.5 526,236.6 526.6,236 528.3,236 528.9,236.5 529.7,235.6 530.3,236 532.3,236 532.9,235.4 533.7,236.5 534.3,236 536.1,236 536.7,236.6 537.4,235.3 537.6,236"/>
<polyline stroke="#ea5a56" stroke-width="0.6" points="409.5,236 410.1,236.7 410.8,235.2 411.5,236 412.2,236 412.9,236.9 413.6,235.4 414.3,236 415.8,236 416.4,235.4 417.2,236.7 417.8,236 419.8,236 420.4,236.9 421.1,235.2 421.8,236 422.9,236 423.5,236.9 424.3,234.9 424.9,236 426.3,236 426.9,234.8 427.7,236.8 428.3,236 430.2,236 430.8,235.1 431.6,237.1 432.2,236 433.6,236 434.2,237.4 435,234.7 435.6,236 437.5,236 438.1,234.9 438.9,237.2 439.5,236 440.9,236 441.5,234.6 442.3,237.1 442.9,236 444.4,236 445,237.3 445.8,235.2 446.4,236 448.2,236 448.9,235.1 449.6,236.9 450.3,236 452.1,236 452.7,237.2 453.5,234.9 454.1,236 455.6,236 456.3,234.9 457,237 457.7,236 457.9,236 458.5,236.9 459.3,234.9 459.9,236 461.5,236 462.1,235.3 462.9,236.9 463.5,236 464,236 464.7,236.5 465.4,235.3 466,236 467.7,236 468.4,235.3 469.1,236.6 469.8,236 471.3,236 472,235.2 472.7,236.6 473.4,236 474.9,236 475.5,236.7 475.9,236.1 476.2,241.1 476.9,235.4 477.6,236 479.4,236 480,235.1 480.8,236.8 481.4,236 482.6,236 483.2,236.8 484,235.3 484.6,236 485.1,236 485.7,235 486.5,236.7 487.1,236 488.6,236 489.2,237 490,234.9 490.6,236 491.3,236 491.9,235.1 492.7,236.9 493.3,236 494.9,236 495.5,236.7 496.3,235 496.9,236 498.7,236 499.3,234.9 500.1,237.2 500.7,236 502,236 502.6,236.8 503.4,235.1 504,236 505.2,235.7 506.4,236.5 508.1,236 508.7,235.2 509.5,236.9 510.1,236 510.9,236 511.5,236.6 512.3,235.3 512.9,236 514.4,236 515,235.2 515.8,236.6 516.4,236 518.2,236 518.8,236.6 519.5,235.2 520.2,236 521.5,236 522.2,236.7 522.9,235.5 523.6,236 524.7,236 525.3,235.2 526.1,236.5 526.7,236 528.9,236 529.5,236.8 530.3,235.3 530.9,236 532.3,236 532.9,236.7 533.7,235.6 534.3,236 535.5,236 536.1,235.5 536.9,236.5 537.5,236 537.6,236"/>
<polyline stroke="#3580ea" stroke-width="0.8" points="409.5,236 410.1,237.6 410.8,234.4 411.5,236 412,236 412.6,237.4 413.4,234.8 414,236 415.5,236 416.2,233.9 416.9,238.2 417.6,236 419.6,236 420.2,233.2 421,239 421.6,236 423.1,236 423.7,239.9 424.4,229.6 424.8,235.4 425.1,231.2 425.8,236 426.3,236 426.9,231 427.7,239.4 428.3,236 429,236 430,228.4 431.1,239.7 431.8,232.4 432.4,236 433.6,236 434.2,229.2 435,243 435.6,236 437.7,236 438.3,243.2 439.1,229.3 439.7,236 441,236 441.6,242.2 442.4,230.1 443,236 444.7,236 445.4,227.7 446.1,243.3 446.7,236 448.2,236 448.8,242.9 449.6,228 450.2,236 452,236 452.7,225.6 453.4,245.1 454.1,236 455.2,236 455.8,224.7 456.6,242.7 457.2,236 458.3,236 458.9,229.1 459.7,245.3 460.7,229.6 461.3,235.2 461.9,227 462.7,247.9 463.3,236 464.3,236 464.9,226 465.7,242.2 466.3,236 467.7,236 468.3,228 468.7,235.3 469.1,230.1 469.8,240.5 470.4,236 471.3,236 471.9,238.5 472.7,233.1 473.3,236 474.7,236 475.3,234.3 476.1,237.1 476.7,236 479.5,236 480.2,237 480.9,235.2 481.6,236 482.1,236 482.7,237.8 483.5,234 484.1,236 485.7,236 486.3,238.8 487.1,233.1 487.7,236 488.2,236 488.8,238.4 489.6,233.5 490.2,236 491.7,236 492.4,233.8 493.1,238.2 493.7,236 495,236 495.6,234 496.4,238.5 497,236 498.5,236 499.2,233.7 499.9,238.6 500.6,236 501.9,236 502.5,238.3 503.3,233.5 503.9,236 505.1,235.6 507.4,236 508,233.8 508.8,238 509.4,236 511,236 511.6,234.5 512.4,237.7 513,236 514.4,236 515,237.7 515.8,234.7 516.4,236 518.1,236 518.7,234 519.5,237.3 520.1,236 521.9,236 522.6,237.7 523.3,234.4 524,236 524.9,236 525.6,237.9 526.3,233.2 526.6,235.8 527,234.2 527.6,236 528.4,236 529,237.3 529.8,234.9 530.4,236 532.5,236 533.1,234.9 533.9,237.3 534.5,236 535.9,236 536.5,241.5 536.9,236.7 537.2,244 537.9,229.9 537.6,236"/>
<polyline stroke="#45b57c" stroke-width="0.8" points="409.5,236 410.1,236.9 410.8,235.3 411.5,236 412.2,236 412.8,234.9 413.6,237.1 414.2,236 416,236 416.6,235 417.4,236.7 418,236 419.2,236 419.8,236.8 420.6,235.2 421.2,236 423,236 423.6,235.3 424.4,237.2 425,236 426.8,236 427.5,239.1 428.2,232.4 428.9,236 430.2,236 430.8,243.9 431.6,231.4 432.2,236 433.5,236 434.1,243.8 434.5,236.9 434.9,248.8 435.6,226 435.9,235.4 436.3,231 436.9,236 437.7,236 438.4,230.8 439.1,239.3 439.7,236 440.7,236 441.4,241.3 442.1,232.3 442.8,236 444.7,236 445.3,229.4 446,239.9 446.7,236 448.5,236 449.1,228.4 449.8,245.1 450.5,236 452.1,236 452.7,226.3 453.5,248.8 453.8,237.1 454.2,245.1 454.8,236 455.1,236 455.7,228.5 456.1,235.1 456.4,221.2 457.1,244.2 457.8,236 458.1,236 458.7,231.6 459.5,239.9 460.1,236 461.5,236 462.1,234.1 462.9,237.3 463.5,236 464.5,236 465.2,237.3 465.9,234.8 466.6,236 467.1,236 467.7,235.1 468.4,236.7 469.1,236 470.9,236 471.5,235.1 472.3,236.8 472.9,236 474.9,236 475.5,236.9 476.3,235.2 476.9,236 479.2,236 479.8,236.7 480.6,235 481.2,236 482.3,236 482.9,236.8 483.7,235.3 484.3,236 485.2,236 485.8,235.1 486.6,237 487.2,236 488.3,236 489,237.7 489.7,234.2 490.4,236 491.7,236 492.4,234.5 493.1,238 493.8,236 495.2,236 495.8,237.3 496.5,234 497.2,236 498.8,236 499.4,234.3 500.2,238 500.8,236 501.9,236 502.5,237.8 503.3,234 503.9,236 505.1,235.6 506.6,236.2 508,236 508.6,235 509.4,237.2 510,236 510.8,236 511.4,237.1 512.2,234.9 512.8,236 514.9,236 515.5,237 516.3,235 516.9,236 518.6,236 519.2,236.8 520,235.1 520.6,236 521.8,236 522.4,236.9 523.2,235.4 523.8,236 525,236 525.7,235.1 526.4,236.6 527.1,236 528.5,236 529.1,235.3 529.9,236.5 530.5,236 531.9,236 532.5,236.8 533.2,235.3 533.9,236 536,236 536.6,235.1 537.3,236.6 537.6,236"/>
<polyline stroke="#ae70e8" stroke-width="0.7" points="409.5,236 409.5,236 410.1,204.4 410.7,236 412.2,236 412.8,233.9 413.6,244 414.2,236 416.6,236 417.2,247.6 417.9,233.4 418.5,236 420.2,236 420.8,248.8 421.4,236 421.8,236 422.4,233.9 423,236 423.8,236 424.4,254.8 425,236 426.6,236 427.2,233.2 428,244 428.6,236 431,236 431.6,259.6 432.3,233.2 432.9,236 434.3,236 434.9,216.4 435.6,258.4 436.2,236 437.9,236 438.5,218.8 439.2,253.6 439.8,236 441.5,236 442.1,222.4 442.8,252.4 443.4,236 445.1,236 445.7,226 446.4,247.6 447,236 449,236 449.5,227.2 450.3,246.4 450.8,236 452.3,236 452.9,226 453.6,250 454.2,236 455.4,236 456,223.6 456.8,248.8 457.4,236 458.3,236 458.9,217.6 459.5,236 459.8,236 460.4,244 461,236 461.4,236 462,218.8 462.6,236 463.4,236 464,251.2 464.9,206.8 465.5,236 467,236 467.6,246.4 468.3,227.2 468.9,236 470.1,236 470.7,253.6 471.6,234.9 472.2,236 473,236 473.6,256 474.2,236 475.4,236 476,263.2 476.6,236 477.8,236 478.4,251.2 479,236 479.4,236 480,206.8 480.6,236 481.4,236 482,253.6 482.9,196 483.5,236 485,236 485.6,256 486.3,216.4 486.9,236 488.6,236 489.1,208 489.9,256 490.4,236 491.9,236 492.5,214 493.2,253.6 493.8,236 495,236 495.6,218.8 496.4,251.2 497,236 498.6,236 499.2,211.6 500,256 500.6,236 501.8,236 502.4,247.6 503.1,229.6 503.7,236 504.9,235.4 506,236.7 507.8,236 508.3,217.6 509.1,266.8 509.7,236 511.1,236 511.7,232 512.5,244 513,236 514.7,236 515.3,226 516.3,269.2 516.9,236 518.3,236 518.9,232 519.7,242.8 520.2,236 521.9,236 522.5,233.9 523.3,241.6 523.8,236 525,236 525.6,228.4 526.4,241.6 527,236 529.4,236 530,239.7 530.6,236 533,236 533.6,240.4 534.2,236 535.8,236 536.4,215.2 537,236 537.6,236"/>
<polyline stroke="#e0a315" stroke-width="0.68" points="409.5,236 410.1,238 410.8,234.7 411.5,236 412.5,236 413.1,239 413.9,234.2 414.5,236 415.8,236 416.4,232.1 417.1,239.9 417.8,236 419.4,236 420,239.7 420.8,232.5 421.4,236 423.1,236 423.7,231.7 424.4,240.2 425.1,236 426.6,236 427.2,230.6 428,239.5 428.6,236 429.9,236 430.5,232.5 431.3,241.6 431.9,236 433.8,236 434.5,241.4 435.2,230 435.9,236 437.1,236 437.7,232.2 438.5,241.7 439.1,236 441,236 441.6,231.4 442.4,239.8 443,236 444.9,236 445.5,240 446.3,229.9 446.9,236 448.3,236 449,230.3 449.7,241.1 450.4,236 451.8,236 452.4,242.1 453.2,230.2 453.8,236 455.4,236 456,230.3 456.8,241.5 457.4,236 458.5,236 459.2,241.4 459.9,230.9 460.6,236 461.5,236 462.1,239.6 462.9,230.7 463.5,236 464.4,236 465,232 465.8,240.3 466.4,236 467.7,236 468.3,238.1 469.1,233.3 469.7,236 471.3,236 472,234.5 472.7,237.6 473.3,236 474.4,236 475,237.3 475.8,234.6 476.4,236 479.6,236 480.2,241.5 481,230.7 481.6,236 482,236 482.6,231.3 483.4,239.4 484,236 485.7,236 486.3,231.1 487.1,241.2 487.7,236 488.2,236 488.9,239.5 489.6,230.7 490.3,236 491.6,236 492.2,230.9 493,239.3 493.6,236 495.2,236 495.9,239.9 496.6,231.5 497.2,236 498.3,236 498.9,241.3 499.7,230.9 500.3,236 502,236 502.6,232 503.3,239.8 504,236 505.2,235.8 507.4,236 508.1,231.8 508.8,241.2 509.5,236 511.1,236 511.7,241 512.5,232.9 513.1,236 514.8,236 515.4,232.7 516.1,240 516.8,236 518.1,236 518.7,233.9 519.5,238 520.1,236 522.2,236 522.8,237.8 523.6,234.5 524.2,236 524.8,236 525.4,234.8 526.2,237.3 526.8,236 528.9,236 529.6,237.2 530.3,235.1 530.9,236 532.4,236 533.1,236.9 533.8,235.1 534.5,236 536.1,236 536.7,234 537.5,238.7 537.6,236"/>
</g>
<rect x="409.5" y="185.7" width="128.1" height="102.4" fill="none" stroke="#5c5c5c" stroke-width="1.1"/>
<path d="M435.1 288.1v-1.5M435.1 185.7v1.5M460.8 288.1v-1.5M460.8 185.7v1.5M486.4 288.1v-1.5M486.4 185.7v1.5M512 288.1v-1.5M512 185.7v1.5M409.5 194.6h1.5M537.6 194.6h-1.5M409.5 215.3h1.5M537.6 215.3h-1.5M409.5 236h1.5M537.6 236h-1.5M409.5 256.7h1.5M537.6 256.7h-1.5M409.5 277.4h1.5M537.6 277.4h-1.5" stroke="#555" stroke-width="0.8" fill="none"/>
<text class="t" text-anchor="end" x="406.3" y="198">0.2</text>
<text class="t" text-anchor="end" x="406.3" y="218.7">0.1</text>
<text class="t" text-anchor="end" x="406.3" y="239.4">0.0</text>
<text class="t" text-anchor="end" x="406.3" y="260.1">−0.1</text>
<text class="t" text-anchor="end" x="406.3" y="280.8">−0.2</text>
<text class="t" text-anchor="middle" x="409.5" y="298.1">0.0</text>
<text class="t" text-anchor="middle" x="435.1" y="298.1">0.2</text>
<text class="t" text-anchor="middle" x="460.8" y="298.1">0.4</text>
<text class="t" text-anchor="middle" x="486.4" y="298.1">0.6</text>
<text class="t" text-anchor="middle" x="512" y="298.1">0.8</text>
<text class="t" text-anchor="middle" x="537.6" y="298.1">1.0</text>
<text class="i" style="font-size:10.2px" text-anchor="middle" x="473.3" y="310.6">s</text>
<text class="cap" text-anchor="middle" x="459.5" y="327.6">(f)</text>
<g transform="translate(383.3 238.9) rotate(-90)">
<text class="i" x="-20.2" y="0">q</text><text class="dots" x="-20.0" y="-6.0">...</text><text class="yl" x="-8.0" y="0">(rad/s)</text></g>
<rect x="397.8" y="169" width="144" height="11.8" rx="0.8" fill="#fff" stroke="#555" stroke-width="1.1"/>
<path d="M399.8 175h7.6" stroke="#5a5a5a" stroke-width="1.5" opacity="0.6"/>
<text class="lq" x="411.1" y="176.9">q</text><text class="ld" x="412.1" y="171.6">...</text><text class="ls" x="415.9" y="178.8">1</text>
<path d="M423.9 175h7.6" stroke="#ea5a56" stroke-width="1.5" opacity="0.6"/>
<text class="lq" x="435.6" y="176.9">q</text><text class="ld" x="436.6" y="171.6">...</text><text class="ls" x="440.4" y="178.8">2</text>
<path d="M448 175h7.6" stroke="#3580ea" stroke-width="1.5" opacity="0.6"/>
<text class="lq" x="460.1" y="176.9">q</text><text class="ld" x="461.1" y="171.6">...</text><text class="ls" x="464.9" y="178.8">3</text>
<path d="M472.1 175h7.6" stroke="#45b57c" stroke-width="1.5" opacity="0.6"/>
<text class="lq" x="484.6" y="176.9">q</text><text class="ld" x="485.6" y="171.6">...</text><text class="ls" x="489.4" y="178.8">4</text>
<path d="M496.2 175h7.6" stroke="#ae70e8" stroke-width="1.5" opacity="0.6"/>
<text class="lq" x="509.1" y="176.9">q</text><text class="ld" x="510.1" y="171.6">...</text><text class="ls" x="513.9" y="178.8">5</text>
<path d="M520.3 175h7.6" stroke="#e0a315" stroke-width="1.5" opacity="0.6"/>
<text class="lq" x="533.6" y="176.9">q</text><text class="ld" x="534.6" y="171.6">...</text><text class="ls" x="538.4" y="178.8">6</text></g>
<g><clipPath id="cg"><rect x="42.1" y="349.2" width="128.4" height="102.3"/></clipPath>
<g clip-path="url(#cg)" fill="none" stroke-linejoin="round">
<polyline stroke="#5a5a5a" stroke-width="0.6" points="42.1,400.1 42.7,400.6 43.4,399.6 44.1,400.1 44.8,400.1 45.4,399.6 46.2,400.5 46.8,400.1 48.3,400.1 49,400.7 49.3,400.2 49.7,402.7 50.4,399.6 51,400.1 52,400.1 52.7,399.4 53.4,400.6 54,400.1 56,400.1 56.6,399.5 57.4,400.7 58,400.1 59.7,400.1 60.4,400.7 61.1,399.4 61.8,400.1 63.2,400.1 63.8,399.5 64.6,400.8 65.2,400.1 66.6,400.1 67.2,400.6 68,399.6 68.6,400.1 70.3,400.1 71,399.5 71.7,400.7 72.4,400.1 73.8,400.1 74.4,400.8 75.2,399.5 75.8,400.1 77.4,400.1 78,400.8 78.8,399.5 79.4,400.1 80.9,400.1 81.5,400.6 82.3,399.7 82.9,400.1 84.3,400.1 84.9,399.4 85.7,400.8 86.3,400.1 88.2,400.1 88.9,400.7 89.6,399.5 90.3,400.1 91,400.1 91.6,399.4 92.4,400.6 93,400.1 94.1,400.1 94.7,400.6 95.5,399.7 96.1,400.1 97.1,400.1 97.7,399.6 98.5,400.6 99.1,400.1 100.2,400.1 100.9,400.7 101.6,399.6 102.3,400.1 103.2,400.1 103.8,399.5 104.6,400.7 105.2,400.1 107.5,400.1 108.1,400.6 108.9,399.5 109.5,400.1 111.2,400.1 111.8,399.6 112.6,400.5 113.2,400.1 113.7,400.1 114.3,400.8 115.1,399.4 115.7,400.1 117.2,400.1 117.8,400.5 118.6,399.5 119.2,400.1 120.7,400.1 121.3,399.7 122.1,400.7 122.7,400.1 123.9,400.1 124.5,400.5 125.2,399.4 125.9,400.1 128,400.1 128.6,400.6 129.4,399.4 130,400.1 131.5,400.1 132.1,399.6 132.9,400.6 133.5,400.1 135.2,400.1 135.9,399.6 136.6,400.8 137.2,400.1 138.5,400.1 139.2,399.6 139.9,400.8 140.6,400.1 142.4,400.1 143,400.7 143.8,399.5 144.4,400.1 145.6,400.1 146.3,400.7 147,399.7 147.7,400.1 149.6,400.1 150.2,399.4 151,400.6 151.6,400.1 152.7,400.1 153.3,399.5 154.1,400.6 154.7,400.1 157.4,400.1 158,400.6 158.8,399.7 159.4,400.1 160.2,400.1 160.8,399.6 161.6,400.6 162.2,400.1 164.1,400.1 164.7,399.5 165.4,400.7 166.1,400.1 168.6,400.1 169.2,400.6 170,399.5 170.5,400.1"/>
<polyline stroke="#ea5a56" stroke-width="0.6" points="42.1,400.1 42.7,399.3 43.4,400.7 44.1,400.1 44.9,400.1 45.5,399.5 46.3,401.1 46.9,400.1 48.3,400.1 49,401.1 49.7,399 50.4,400.1 51,400.1 52,403.7 53.1,399.2 53.8,401 54.5,400.1 55.6,400.1 56.3,400.8 57,399.3 57.7,400.1 59.6,400.1 60.3,399.4 61,400.8 61.7,400.1 63.1,400.1 63.7,399.2 64.5,401.3 65.1,400.1 66.7,400.1 67.4,400.8 68.1,399.4 68.8,400.1 70.5,400.1 71.1,399.4 71.9,400.9 72.5,400.1 73.4,400.1 74.1,400.9 74.8,399 75.5,400.1 77.2,400.1 77.8,399.4 78.6,400.9 79.2,400.1 81.2,400.1 81.8,399.2 82.6,401.1 83.2,400.1 84.9,400.1 85.6,398.9 86.3,401 86.9,400.1 88,400.1 88.7,399.2 89.4,400.8 90.1,400.1 91.6,400.1 92.2,401 93,399.2 93.6,400.1 93.9,400.1 94.5,400.7 95.3,399.2 95.9,400.1 97.3,400.1 97.9,399.2 98.7,400.7 99.3,400.1 100.4,400.1 101,400.9 101.8,399.4 102.4,400.1 103.7,400.1 104.3,399.6 105.1,400.7 105.7,400.1 107.6,400.1 108.3,400.5 109,399.4 109.6,400.1 111,400.1 111.6,400.8 112.4,399.5 113,400.1 113.6,400.1 114.2,400.7 115,399.6 115.6,400.1 116.9,400.1 117.5,399.4 118.3,400.7 118.9,400.1 120.8,400.1 121.4,400.6 122.2,399.3 122.8,400.1 124.1,400.1 124.8,399.3 125.5,401 126.1,400.1 127.8,400.1 128.4,401 129.2,399.2 129.8,400.1 131.5,400.1 132.1,399.4 132.9,401 133.5,400.1 135,400.1 135.7,400.9 136.4,399.3 137,400.1 138.4,400.1 139,399.3 139.8,400.7 140.4,400.1 142,400.1 142.6,400.8 143.4,399.5 144,400.1 146.1,400.1 146.7,399.4 147.5,400.7 148.1,400.1 149.5,400.1 150.1,401.2 150.9,399.2 151.5,400.1 152.7,400.1 153.4,401.3 154.1,399.1 155.2,403.7 156.2,400.1 157.2,400.1 157.9,401.3 158.6,399.2 159.3,400.1 160.1,400.1 160.8,400.9 161.5,399.4 162.1,400.1 163.5,400.1 164.1,399.3 164.9,400.9 165.5,400.1 168.5,400.1 169.1,399.5 169.9,400.7 170.5,400.1"/>
<polyline stroke="#3580ea" stroke-width="0.8" points="42.1,400.1 42.7,398.8 43.4,401.4 44.1,400.1 45.3,400.1 45.9,401.5 46.7,399.1 47.3,400.1 48.5,400.1 49.1,398 49.9,402.2 50.5,400.1 52.4,400.1 53.1,402.8 53.8,397.9 54.5,400.1 55.5,400.1 56.1,396.3 56.5,399.6 56.9,390 57.6,405.1 58.2,400.1 59.5,400.1 60.1,394.5 60.9,405.9 61.5,400.1 63.2,400.1 63.9,406.4 64.6,391.2 64.9,399.4 65.3,394.3 65.9,400.1 66.7,400.1 67.3,396.4 68.1,404.9 68.7,400.1 69.8,400.1 70.5,394.1 71.2,404.4 71.9,400.1 73.9,400.1 74.5,394.2 75.3,404.9 75.9,400.1 77.6,400.1 78.2,395.7 79,403.4 79.6,400.1 81.3,400.1 81.9,406 82.7,394.3 83.3,400.1 84.5,400.1 85.2,395 85.9,404.8 86.6,400.1 88.1,400.1 88.7,406.6 89.5,392.8 90.1,400.1 91.2,400.1 91.9,393.6 92.6,406.2 93.2,400.1 94.3,400.1 95,409 95.7,392.4 96.3,400.1 97.2,400.1 97.9,393.2 98.6,405.9 99.3,391.2 100.3,400.1 100.3,400.1 100.9,392.7 101.7,407.6 102.4,393.1 103.4,400.1 103.5,400.1 104.1,404.3 104.9,394.6 105.5,400.1 107.7,400.1 108.3,401.9 109.1,398.3 109.7,400.1 111,400.1 111.6,398.6 112.4,401.2 113,400.1 113.9,400.1 114.5,401.3 115.3,398.7 115.9,400.1 116.9,400.1 117.5,398.7 118.3,401.6 118.9,400.1 120.9,400.1 121.5,398.3 122.2,402.2 122.9,400.1 123.9,400.1 124.5,398.5 125.3,401.6 125.9,400.1 128.1,400.1 128.7,398.2 129.5,401.5 130.1,400.1 131.5,400.1 132.1,402 132.8,398.5 133.5,400.1 135.2,400.1 135.8,402.2 136.6,398.3 137.2,400.1 138.8,400.1 139.4,398.7 140.2,402.1 140.8,400.1 142.5,400.1 143.2,402 143.9,398.3 144.6,400.1 145.7,400.1 146.3,398.7 147.1,402 147.7,400.1 149.4,400.1 150,401.6 150.8,398.3 151.4,400.1 153.2,400.1 153.8,402.4 154.6,398.2 155.2,400.1 157.1,400.1 157.7,396 158.5,403.7 159.2,391.7 160.8,401.9 161.6,398.6 162.2,400.1 163.6,400.1 164.2,397.6 165,402.6 165.6,400.1 168.7,400.1 169.4,405.7 169.7,400.8 170.1,407.5 170.8,395.1 170.5,400.1"/>
<polyline stroke="#45b57c" stroke-width="0.8" points="42.1,400.1 42.7,399.4 43.4,400.9 44.1,400.1 45,400.1 45.6,400.8 46.4,399 47,400.1 48.3,400.1 48.9,399 49.7,401.1 50.3,400.1 52.3,400.1 52.9,399.4 53.7,401 54.3,400.1 56.2,400.1 56.8,400.8 57.5,399.1 58.2,400.1 59.4,400.1 60,398.3 60.8,401.8 61.4,400.1 62.8,400.1 63.5,404.2 64.2,396.6 64.9,400.1 66.7,400.1 67.4,396.6 68.1,404 68.8,400.1 70.4,400.1 71,398.1 71.8,402.6 72.4,400.1 73.5,400.1 74.1,402.7 74.9,398 75.5,400.1 77.4,400.1 78,397.5 78.8,403.4 79.4,400.1 81.1,400.1 81.7,403.5 82.5,396.6 83.1,400.1 84.9,400.1 85.6,393.5 86.3,405.5 86.9,400.1 87,400.1 88,410.4 88.4,401.1 88.7,408.4 89.4,387.6 89.8,399.1 90.2,391.4 90.8,400.1 91.3,400.1 92,395.2 92.7,405.2 93.3,400.1 94.3,400.1 94.9,398.7 95.7,401.7 96.3,400.1 97.6,400.1 98.2,401 99,399 99.6,400.1 100.1,400.1 100.7,399.1 101.5,401 102.1,400.1 103,400.1 103.7,400.9 104.4,399.2 105.1,400.1 107,400.1 107.7,399.3 108.4,401 109,400.1 111.3,400.1 112,399.2 112.7,400.9 113.4,400.1 113.6,400.1 114.2,400.8 115,399.5 115.6,400.1 117,400.1 117.6,401 118.4,399.2 119,400.1 120.8,400.1 121.5,399.3 122.2,400.9 122.9,400.1 124,400.1 124.6,401.6 125.4,399 126,400.1 127.7,400.1 128.3,398.7 129.1,401.6 129.7,400.1 131.1,400.1 131.7,401.2 132.5,398.7 133.1,400.1 134.7,400.1 135.4,398.7 136.1,401.3 136.8,400.1 138.5,400.1 139.1,401.5 139.9,399 140.5,400.1 141.9,400.1 142.5,399.4 143.2,400.8 143.9,400.1 145.7,400.1 146.3,399.5 147.1,400.7 147.7,400.1 149.2,400.1 149.9,400.7 150.6,399.5 151.3,400.1 152.9,400.1 153.5,400.7 154.3,399.2 154.9,400.1 157.6,400.1 158.2,400.8 159,399.5 159.6,400.1 160.5,400.1 161.1,399.3 161.9,400.7 162.5,400.1 164.1,400.1 164.7,399.3 165.4,400.8 166.1,400.1 168.5,400.1 169.1,400.7 169.9,399.2 170.5,400.1"/>
<polyline stroke="#ae70e8" stroke-width="0.7" points="42.1,400.1 42.1,400.1 42.7,368.4 43.3,400.1 45,400.1 45.6,397.9 46.4,405.6 47,400.1 48.6,400.1 49.2,397.4 50,415.2 50.6,400.1 52.2,400.1 52.8,397.9 53.6,420 54.2,400.1 55.8,400.1 56.4,397.2 57.2,424.8 57.8,400.1 59.4,400.1 60,397.7 60.8,417.6 61.4,400.1 63,400.1 63.6,397.2 64.4,422.4 65,400.1 67.4,400.1 67.9,379.2 68.7,417.6 69.2,400.1 71,400.1 71.5,382.8 72.3,412.8 72.8,400.1 74.6,400.1 75.1,387.6 75.9,410.4 76.4,400.1 78.2,400.1 78.7,390 79.5,409.2 80,400.1 81.8,400.1 82.3,392.4 83.1,408 83.6,400.1 85.1,400.1 85.7,391.2 86.4,411.6 87,400.1 88.2,400.1 88.8,387.6 89.6,411.6 90.2,400.1 91.4,400.1 91.9,384 92.5,400.1 92.6,400.1 93.2,409.2 93.8,400.1 94.2,400.1 94.8,382.8 95.4,400.1 96.2,400.1 96.8,420 97.4,400.1 97.4,400.1 97.9,366 98.5,400.1 99.8,400.1 100.4,422.4 101.1,384 101.7,400.1 102.7,400.1 103.3,429.6 104,394.8 104.6,400.1 105.8,400.1 106.4,417.6 107,400.1 107.4,400.1 108,391.2 108.6,400.1 108.7,400.1 109.3,435.6 110.4,370.8 111,400.1 111.8,400.1 112.4,420 113.3,363.6 113.9,400.1 114.7,400.1 115.3,415.2 116.4,366 117,400.1 117.8,400.1 118.4,416.4 119.3,390 119.9,400.1 121.4,400.1 122,417.6 122.7,378 123.3,400.1 125,400.1 125.5,381.6 126.3,420 126.8,400.1 128.3,400.1 128.9,386.4 129.6,414 130.2,400.1 131.4,400.1 132,376.8 132.8,415.2 133.4,400.1 135,400.1 135.6,392.4 136.4,408 137,400.1 138.6,400.1 139.2,376.8 139.8,400.1 140.6,400.1 141.2,429.6 141.8,400.1 142.2,400.1 142.8,393.6 143.4,400.1 144.2,400.1 144.8,408 145.4,400.1 145.8,400.1 146.4,386.4 147,400.1 148.3,400.1 148.9,446.4 150,396 150.6,400.1 151.4,400.1 152,420 152.6,400.1 153,400.1 153.6,397.7 154.2,400.1 155,400.1 155.6,422.4 156.2,400.1 158.1,400.1 158.7,424.8 159.4,388.8 160,400.1 161,400.1 161.6,408 162.2,400.1 164.6,400.1 165.2,404.4 165.8,400.1 167,399.5 169.3,400.1 169.9,408 170.6,369.6 170.5,400.1"/>
<polyline stroke="#e0a315" stroke-width="0.68" points="42.1,400.1 42.7,398.9 43.4,401.6 44.1,400.1 45.3,400.1 45.9,404.3 46.7,395.4 47.3,400.1 48.9,400.1 49.5,403.1 50.3,397.7 50.9,400.1 52.3,400.1 53,403.3 53.7,395.7 54.4,400.1 55.9,400.1 56.5,395.4 57.3,403.6 57.9,400.1 59.4,400.1 60,395.2 60.8,404.6 61.4,400.1 63.3,400.1 63.9,404.6 64.6,395.8 65.3,400.1 66.6,400.1 67.2,394.4 68,403.7 68.6,400.1 70.1,400.1 70.8,405.1 71.5,396.3 72.2,400.1 74.1,400.1 74.7,404.4 75.5,395 76.1,400.1 77.6,400.1 78.2,396.2 79,406.2 79.6,400.1 81.2,400.1 81.8,405.7 82.6,394.1 83.2,400.1 84.3,400.1 84.9,396.2 85.7,404.8 86.3,400.1 88,400.1 88.6,406.2 89.4,395.6 90,400.1 91,400.1 91.6,395.5 92.4,406.6 93,400.1 94,400.1 94.6,405.8 95.4,393.8 96,400.1 97.1,400.1 97.7,393.6 98.5,404.2 99.1,400.1 99.9,400.1 100.6,397 101.3,405.1 102,400.1 103.2,400.1 103.9,401.8 104.6,398.3 105.3,400.1 107.6,400.1 108.2,399.1 109,400.8 109.6,400.1 111.3,400.1 111.9,405.2 112.7,396.6 113.3,400.1 113.7,400.1 114.3,396.4 115.1,405.5 115.7,400.1 117.1,400.1 117.7,405.2 118.5,396.3 119.1,400.1 120.9,400.1 121.6,395.2 122.3,403.7 123,400.1 124.4,400.1 125,394.1 125.8,405 126.4,400.1 128,400.1 128.7,404.5 129.4,394.2 130.1,400.1 131.3,400.1 131.9,395.4 132.7,404.8 133.3,400.1 135.1,400.1 135.8,403.9 136.5,394.2 137.2,400.1 138.8,400.1 139.4,393.5 140.2,406.4 140.8,400.1 142.3,400.1 143,394.3 143.7,405.5 144.4,400.1 145.5,400.1 146.1,405.6 146.9,394.3 147.5,400.1 149.4,400.1 150,397 150.8,403.6 151.4,400.1 152.7,400.1 153.3,399 154.1,401.5 154.7,400.1 157.6,400.1 158.2,401.3 158.9,398.3 159.6,400.1 160,400.1 160.6,398.7 161.3,401.8 162,400.1 164,400.1 164.6,401.3 165.4,399.2 166,400.1 168.5,400.1 169.1,398.4 169.9,401.7 170.5,400.1"/>
</g>
<rect x="42.1" y="349.2" width="128.4" height="102.3" fill="none" stroke="#5c5c5c" stroke-width="1.1"/>
<path d="M67.8 451.5v-1.5M67.8 349.2v1.5M93.5 451.5v-1.5M93.5 349.2v1.5M119.1 451.5v-1.5M119.1 349.2v1.5M144.8 451.5v-1.5M144.8 349.2v1.5M42.1 357.7h1.5M170.5 357.7h-1.5M42.1 400.1h1.5M170.5 400.1h-1.5M42.1 442.5h1.5M170.5 442.5h-1.5" stroke="#555" stroke-width="0.8" fill="none"/>
<text class="t" text-anchor="end" x="38.9" y="361.1">0.1</text>
<text class="t" text-anchor="end" x="38.9" y="403.5">0.0</text>
<text class="t" text-anchor="end" x="38.9" y="445.9">−0.1</text>
<text class="t" text-anchor="middle" x="42.1" y="461.5">0.0</text>
<text class="t" text-anchor="middle" x="67.8" y="461.5">0.2</text>
<text class="t" text-anchor="middle" x="93.5" y="461.5">0.4</text>
<text class="t" text-anchor="middle" x="119.1" y="461.5">0.6</text>
<text class="t" text-anchor="middle" x="144.8" y="461.5">0.8</text>
<text class="t" text-anchor="middle" x="170.5" y="461.5">1.0</text>
<text class="i" style="font-size:10.2px" text-anchor="middle" x="106" y="474">s</text>
<text class="cap" text-anchor="middle" x="92.4" y="491">(g)</text>
<g transform="translate(15.9 402.4) rotate(-90)">
<text class="i" x="-20.2" y="0">q</text><text class="dots" x="-20.0" y="-6.0">...</text><text class="yl" x="-8.0" y="0">(rad/s)</text></g>
<rect x="30.4" y="334.3" width="144" height="11.8" rx="0.8" fill="#fff" stroke="#555" stroke-width="1.1"/>
<path d="M32.4 340.3h7.6" stroke="#5a5a5a" stroke-width="1.5" opacity="0.6"/>
<text class="lq" x="43.7" y="342.2">q</text><text class="ld" x="44.7" y="336.9">...</text><text class="ls" x="48.5" y="344.1">1</text>
<path d="M56.5 340.3h7.6" stroke="#ea5a56" stroke-width="1.5" opacity="0.6"/>
<text class="lq" x="68.2" y="342.2">q</text><text class="ld" x="69.2" y="336.9">...</text><text class="ls" x="73" y="344.1">2</text>
<path d="M80.6 340.3h7.6" stroke="#3580ea" stroke-width="1.5" opacity="0.6"/>
<text class="lq" x="92.7" y="342.2">q</text><text class="ld" x="93.7" y="336.9">...</text><text class="ls" x="97.5" y="344.1">3</text>
<path d="M104.7 340.3h7.6" stroke="#45b57c" stroke-width="1.5" opacity="0.6"/>
<text class="lq" x="117.2" y="342.2">q</text><text class="ld" x="118.2" y="336.9">...</text><text class="ls" x="122" y="344.1">4</text>
<path d="M128.8 340.3h7.6" stroke="#ae70e8" stroke-width="1.5" opacity="0.6"/>
<text class="lq" x="141.7" y="342.2">q</text><text class="ld" x="142.7" y="336.9">...</text><text class="ls" x="146.5" y="344.1">5</text>
<path d="M152.9 340.3h7.6" stroke="#e0a315" stroke-width="1.5" opacity="0.6"/>
<text class="lq" x="166.2" y="342.2">q</text><text class="ld" x="167.2" y="336.9">...</text><text class="ls" x="171" y="344.1">6</text></g>
<g><clipPath id="ch"><rect x="225.8" y="348.8" width="128.5" height="102.5"/></clipPath>
<g clip-path="url(#ch)" fill="none" stroke-linejoin="round">
<polyline stroke="#5a5a5a" stroke-width="0.6" points="225.8,399.9 226.4,400.3 227.1,399.5 227.8,399.9 227.8,399.9 228.4,399.5 229.2,400.3 229.8,399.9 231.6,399.9 232.2,399.5 232.9,400.3 233.6,399.9 235.1,399.9 235.8,400.4 236.5,399.6 237.2,399.9 238.5,399.9 239.1,399.4 239.9,400.4 240.5,399.9 241.7,399.6 243.9,399.9 244.5,399.5 245.3,400.4 245.9,399.9 246.4,399.9 247,400.2 247.8,399.6 248.4,399.9 250,399.9 250.6,399.6 251.4,400.4 252,399.9 254.1,399.9 254.7,399.6 255.5,400.2 256.1,399.9 257.8,399.9 258.4,400.2 259.2,399.6 259.8,399.9 261.1,399.9 261.7,400.2 262.5,399.6 263.1,399.9 265.4,399.9 266,399.5 266.8,400.4 267.4,399.9 268.7,399.9 269.3,400.2 270.1,399.6 270.7,399.9 272.2,399.9 272.8,399.5 273.6,400.3 274.2,399.9 275.5,399.9 276.2,400.2 276.9,399.6 277.6,399.9 278.5,399.9 279.1,399.6 279.9,400.3 280.5,399.9 282.5,399.9 283.2,400.2 283.9,399.5 284.5,399.9 285.6,399.9 286.2,399.6 287,400.2 287.6,399.9 288.8,399.6 291,399.9 291.6,400.3 292.4,399.6 293,399.9 294.2,399.9 294.9,399.5 295.6,400.3 296.3,399.9 296.8,399.9 297.5,400.3 298.2,399.6 298.9,399.9 300.1,399.9 300.8,399.6 301.5,400.3 302.1,399.9 302.7,399.9 303.3,400.2 304.1,399.5 304.7,399.9 305.9,399.9 306.6,399.5 307.3,400.3 308,399.9 309.7,399.9 310.3,400.2 311.1,399.6 311.7,399.9 312.9,399.9 313.5,400.2 314.3,399.5 314.9,399.9 316.8,399.9 317.5,399.5 318.2,400.4 318.8,399.9 320.4,399.9 321,400.3 321.8,399.5 322.4,399.9 323.9,399.9 324.5,400.2 325.3,399.5 325.9,399.9 327.5,399.9 328.1,400.2 328.9,399.6 329.5,399.9 330.8,399.9 331.5,399.4 332.2,400.3 332.9,399.9 334.6,399.9 335.2,400.2 336,399.6 336.6,399.9 337.6,399.9 338.2,400.2 339,399.6 339.6,399.9 340.5,399.9 341.1,400.2 341.9,399.6 342.5,399.9 344.7,399.9 345.3,400.3 346.1,399.5 346.7,399.9 348.9,399.9 349.5,399.6 350.3,400.2 350.9,399.9 352.8,399.9 353.4,400.3 354.1,399.6 354.3,399.9"/>
<polyline stroke="#ea5a56" stroke-width="0.6" points="225.8,399.9 226.4,400.5 227.1,399.3 227.8,399.9 228.1,399.9 228.7,399.2 229.5,400.5 230.1,399.9 231.6,399.9 232.2,399.4 233,400.5 233.6,399.9 235.3,399.9 236,400.3 236.7,399.4 237.3,399.9 239,399.9 239.6,399.4 240.4,400.3 241,399.9 243.7,399.9 244.3,400.6 245.1,399.4 245.7,399.9 246.5,399.9 247.1,399.5 247.9,400.4 248.5,399.9 250.4,399.9 251,400.3 251.8,399.4 252.4,399.9 253.9,399.9 254.5,400.4 255.3,399.4 255.9,399.9 257.6,399.9 258.2,399.3 259,400.5 259.6,399.9 261.4,399.9 262,400.4 262.7,399.3 263.4,399.9 265.4,399.9 266.1,400.5 266.8,399.3 267.4,399.9 268.5,399.9 269.1,399.3 269.9,400.5 270.5,399.9 272.3,399.9 272.9,400.3 273.7,399.2 274.3,399.9 275.2,399.9 275.8,399.4 276.6,400.5 277.2,399.9 278.3,399.9 278.9,399.5 279.7,400.3 280.3,399.9 282.4,399.9 283.1,400.2 283.8,399.5 284.4,399.9 285.9,399.9 286.6,399.5 287.3,400.3 288,399.9 291.1,399.9 291.7,400.2 292.5,399.6 293.1,399.9 294,399.9 294.6,399.6 295.4,400.2 296,399.9 296.9,399.9 297.5,400.2 298.3,399.4 298.9,399.9 299.8,399.9 300.5,399.6 301.2,400.3 301.9,399.9 302.6,399.9 303.2,399.4 304,400.3 304.6,399.9 305.9,399.9 306.5,400.3 307.3,399.4 307.9,399.9 309.5,399.9 310.1,400.4 310.9,399.3 311.5,399.9 313.3,399.9 313.9,399.4 314.7,400.5 315.3,399.9 316.6,399.9 317.2,399.4 318,400.3 318.6,399.9 320.2,399.9 320.8,399.4 321.6,400.6 322.2,399.9 324.1,399.9 324.7,400.4 325.4,399.3 326.1,399.9 327.9,399.9 328.6,399.2 329.3,400.4 330,399.9 331.1,399.9 331.7,399.3 332.5,400.6 333.1,399.9 334.9,399.9 335.5,400.5 336.2,399.1 336.9,399.9 338,399.9 338.6,399.1 339.4,400.6 340,399.9 341,399.9 341.6,400.6 342.4,399.4 343,399.9 344.6,399.9 345.2,399.3 346,400.4 346.6,399.9 349.2,399.9 349.9,400.4 350.6,399.3 351.2,399.9 352.5,399.9 353.1,399.5 353.8,400.3 354.3,399.9"/>
<polyline stroke="#3580ea" stroke-width="0.8" points="225.8,399.9 226.4,401.2 227.1,399.1 227.8,399.9 227.8,399.9 228.5,400.7 229.2,399.2 229.9,399.9 231.3,399.9 231.9,399 232.7,401.1 233.3,399.9 235.4,399.9 236,401.6 236.7,398.2 237.4,399.9 238.6,399.9 239.2,397.5 240,402.9 241,395.5 242,399.9 242.4,399.9 243.4,396 243.8,399.6 244.1,397.4 244.9,401.8 245.5,399.9 246.4,399.9 247.1,402.7 247.8,397.3 248.5,399.9 250.5,399.9 251.1,397.9 251.9,402.2 252.5,399.9 253.8,399.9 254.4,398 255.2,402 255.8,399.9 257.3,399.9 257.9,402.3 258.7,398.3 259.3,399.9 261.3,399.9 261.9,397.3 262.6,402.7 263.3,399.9 265.3,399.9 266,402.1 266.7,397 267.4,399.9 268.9,399.9 269.5,397 270.3,402.4 270.9,399.9 271.2,399.9 272.2,394.8 273.1,404.4 273.9,395.5 274.5,399.9 275.1,399.9 275.7,404.8 276.5,394.1 277.1,399.9 278.4,399.9 279,394.3 279.8,407.1 280.4,399.9 282.6,399.9 283.2,405.9 284,394.3 284.6,399.9 285.8,399.9 286.4,393.6 287.2,406.8 287.8,399.9 291,399.9 291.6,398.3 292.4,401.4 293,399.9 294,399.9 294.6,399 295.4,400.9 296,399.9 296.8,399.9 297.5,399 298.2,400.7 298.8,399.9 300.3,399.9 300.9,399.1 301.7,400.9 302.3,399.9 303.2,399.9 303.8,400.8 304.6,398.8 305.2,399.9 306.3,399.9 307,398.6 307.7,400.9 308.4,399.9 309.3,399.9 309.9,401 310.7,398.8 311.3,399.9 313,399.9 313.7,398.8 314.4,400.9 315,399.9 317.1,399.9 317.7,399.1 318.5,401.2 319.1,399.9 320.1,399.9 320.7,400.8 321.5,398.7 322.1,399.9 324.2,399.9 324.8,398.5 325.5,400.8 326.2,399.9 327.6,399.9 328.2,401.3 329,398.8 329.6,399.9 330.9,399.9 331.6,398.8 332.3,401.3 333,399.9 334.4,399.9 335.1,401.7 335.8,398.4 336.5,399.9 337.7,399.9 338.4,402.3 339.1,398.1 339.8,399.9 340.8,399.9 341.4,401.6 342.2,398 342.6,399.7 342.9,394.8 343.9,399.9 344.4,399.9 345,401.2 345.8,398.9 346.4,399.9 349.2,399.9 349.8,396.6 350.5,403.5 351.2,399.9 353,399.9 353.6,404.1 354,400.4 354.3,406.8 355,396.4 354.3,399.9"/>
<polyline stroke="#45b57c" stroke-width="0.8" points="225.8,399.9 226.4,400.4 227.1,399.5 228.3,400.5 229.1,399.3 229.7,399.9 231.4,399.9 232,399.3 232.8,400.5 233.4,399.9 235.3,399.9 235.9,399.5 236.7,400.4 237.3,399.9 239,399.9 239.6,399.3 240.4,400.6 241,399.9 243.8,399.9 244.4,401.2 245.2,398.7 245.8,399.9 246.5,399.9 247.2,398 247.9,401.3 248.5,399.9 250.5,399.9 251.2,397.9 251.9,401.1 252.6,399.9 254.2,399.9 254.9,401.8 255.6,398.3 256.3,399.9 257.3,399.9 258,401.3 258.7,398.8 259.3,399.9 261.5,399.9 262.1,401.5 262.9,398.7 263.5,399.9 265.1,399.9 265.8,402.1 266.5,397.6 267.2,399.9 268.8,399.9 269.4,397 270.2,402.1 270.8,399.9 271.2,399.9 272.2,405.6 272.7,400.4 273.2,404.2 274,397.1 274.6,399.9 275.4,399.9 276,398.6 276.8,401.4 277.4,399.9 278.6,399.9 279.2,400.6 280,399 280.6,399.9 282.5,399.9 283.2,399.2 283.9,400.5 284.5,399.9 285.8,399.9 286.5,399.4 287.2,400.5 287.8,399.9 291,399.9 291.7,399.3 292.4,400.5 293.1,399.9 294,399.9 294.7,399.2 295.4,400.3 296.1,399.9 296.9,399.9 297.5,400.6 298.3,399.2 298.9,399.9 300,399.9 300.6,399.3 301.3,400.6 302,399.9 302.7,399.9 303.3,400.7 304.1,399.4 304.7,399.9 305.7,399.9 306.3,400.7 307,399 307.7,399.9 309.7,399.9 310.3,399.2 311.1,400.8 311.7,399.9 313.4,399.9 314,400.8 314.8,399.2 315.4,399.9 316.9,399.9 317.5,399 318.3,400.6 318.9,399.9 320.2,399.9 320.8,400.8 321.6,399.1 322.2,399.9 324,399.9 324.7,399.2 325.4,400.7 326,399.9 327.5,399.9 328.1,399.4 328.9,400.5 329.5,399.9 331.5,399.9 332.1,400.6 332.9,399.3 333.5,399.9 334.9,399.9 335.5,400.5 336.3,399.2 336.9,399.9 337.9,399.9 338.5,400.5 339.3,399.4 339.9,399.9 340.7,399.9 341.3,400.3 342.1,399.4 342.7,399.9 344.4,399.9 345,399.2 345.8,400.3 346.4,399.9 349.3,399.9 349.9,400.5 350.7,399.4 351.3,399.9 352.6,399.9 353.2,400.6 353.9,399.3 354.3,399.9"/>
<polyline stroke="#ae70e8" stroke-width="0.7" points="225.8,399.9 225.8,399.9 226.4,384 227,399.9 228.8,399.9 229.4,402.7 230.1,397.9 230.7,399.9 232.4,399.9 233,404.4 233.6,399.9 234,399.9 234.6,397.7 235.2,399.9 236,399.9 236.6,409.2 237.2,399.9 238.8,399.9 239.4,397.9 240,399.9 240.8,399.9 241.4,411.6 242,399.9 243.6,399.9 244.2,397.7 245,405.6 245.6,399.9 247.2,399.9 247.8,397.4 248.5,409.9 249.1,399.9 250.4,399.9 250.9,390 251.7,409.2 252.3,399.9 254,399.9 254.5,391.2 255.3,405.6 255.9,399.9 257.6,399.9 258.1,393.6 258.7,399.9 258.8,399.9 259.4,404.4 260,399.9 261.2,399.9 261.7,396 262.3,399.9 262.4,399.9 263,404.4 263.6,399.9 265.2,399.9 265.8,396 266.6,403.9 267.2,399.9 268.8,399.9 269.4,396 270.2,404.4 270.8,399.9 272.4,399.9 273,393.6 273.8,404.6 274.4,399.9 275.3,399.9 275.9,392.4 276.6,404.4 277.2,399.9 278,399.9 278.6,410.4 279.3,390 279.9,399.9 280.8,399.9 281.4,376.8 282.1,416.4 282.7,399.9 283.2,399.9 283.8,390 284.5,411.6 285.1,399.9 285.6,399.9 286.2,380.4 286.9,424.8 287.5,399.9 288,399.9 288.6,393.6 289.4,412.8 290,399.9 290.9,399.9 291.5,376.8 292.1,399.9 292.4,399.9 293,427.2 294.1,370.8 294.7,399.9 294.8,399.9 295.4,420 296,399.9 296.4,399.9 297,372 297.6,399.9 297.7,399.9 298.3,416.4 298.8,399.9 299.3,399.9 299.9,378 300.5,399.9 300.8,399.9 301.4,417.6 302.5,392.4 303.1,399.9 303.7,399.9 304.3,409.2 305.4,388.8 306,399.9 306.8,399.9 307.4,411.6 308,399.9 308.4,399.9 309,391.2 309.6,399.9 310.4,399.9 311,406.8 312.1,393.6 312.7,399.9 314,399.9 314.6,409.2 315.3,388.8 315.9,399.9 317.6,399.9 318.2,404.4 318.9,394.8 319.5,399.9 321.2,399.9 321.8,403.7 322.9,387.6 323.5,399.9 324.8,399.9 325.4,412.8 326.5,396 327.1,399.9 328.4,399.9 329,405.6 330.1,394.8 330.7,399.9 332,399.9 332.6,422.4 333.2,399.9 333.6,399.9 334.2,397.2 334.8,399.9 335.6,399.9 336.2,412.8 336.8,399.9 337.2,399.9 337.8,397.4 338.4,399.9 338.7,399.9 339.3,412.8 339.9,399.9 341.3,399.9 341.9,393.6 342.6,411.6 343.2,399.9 345.2,399.9 345.8,404.4 346.4,399.9 347.6,398.8 350,399.9 350.6,402.7 351.2,399.9 352.8,399.9 353.4,384 354,399.9 354.3,399.9"/>
<polyline stroke="#e0a315" stroke-width="0.68" points="225.8,399.9 226.4,400.5 227.1,399.1 227.7,399.8 228.3,398 229.1,402.7 229.7,399.9 231.3,399.9 231.9,401.5 232.6,398.5 233.3,399.9 235,399.9 235.6,398.2 236.4,401.7 237,399.9 238.9,399.9 239.5,397.4 240.3,402 240.9,399.9 243.8,399.9 244.4,397.9 245.2,402.3 245.8,399.9 246.5,399.9 247.1,402.6 247.9,396.6 248.5,399.9 250.6,399.9 251.3,402.2 252,397.9 252.7,399.9 253.6,399.9 254.2,396.7 255,403 255.6,399.9 257.7,399.9 258.3,403.1 259.1,397.7 259.7,399.9 261.1,399.9 261.7,397.8 262.5,402.8 263.1,399.9 265.1,399.9 265.7,402.1 266.5,397.2 267.1,399.9 269.1,399.9 269.7,402.5 270.5,397 271.1,399.9 272.4,399.9 273.1,397.1 273.8,401.8 274.4,399.9 275,399.9 275.6,402.2 276.4,397.9 277,399.9 278.3,399.9 278.9,397.7 279.7,402.3 280.3,399.9 282.8,399.9 283.4,401.7 284.2,398 284.8,399.9 285.5,399.9 286.1,399.1 286.8,401.3 287.5,399.9 288.7,399.5 291.1,399.9 291.7,400.9 292.5,399 293.1,399.9 294.1,399.9 294.7,401.6 295.5,397.2 296.1,399.9 297.1,399.9 297.7,398.2 298.5,402.8 299.1,399.9 299.7,399.9 300.3,402.6 301.1,397 301.7,399.9 302.6,399.9 303.2,397.3 304,402.8 304.6,399.9 305.8,399.9 306.4,402.6 307.1,396.8 307.8,399.9 309.9,399.9 310.5,396.6 311.3,402.4 311.9,399.9 313.3,399.9 313.9,402.2 314.7,397.6 315.3,399.9 316.9,399.9 317.5,397.1 318.3,402.6 318.9,399.9 320.1,399.9 320.7,402.2 321.5,397.5 322.1,399.9 323.9,399.9 324.5,403.1 325.2,397.3 325.9,399.9 327.4,399.9 328.1,397.6 328.8,402.6 329.5,399.9 331.4,399.9 332,398 332.8,401.6 333.4,399.9 334.8,399.9 335.4,401.3 336.2,398 336.8,399.9 338.1,399.9 338.7,398.7 339.4,400.8 340.1,399.9 341.1,399.9 341.7,398.6 342.5,401.2 343.1,399.9 344.4,399.9 345,398.6 345.8,401.2 346.4,399.9 348.8,399.9 349.5,399.4 350.2,400.7 350.9,399.9 353,399.9 353.7,401.4 354.4,398.5 354.3,399.9"/>
</g>
<rect x="225.8" y="348.8" width="128.5" height="102.5" fill="none" stroke="#5c5c5c" stroke-width="1.1"/>
<path d="M251.5 451.3v-1.5M251.5 348.8v1.5M277.2 451.3v-1.5M277.2 348.8v1.5M302.9 451.3v-1.5M302.9 348.8v1.5M328.6 451.3v-1.5M328.6 348.8v1.5M225.8 357.5h1.5M354.3 357.5h-1.5M225.8 399.9h1.5M354.3 399.9h-1.5M225.8 442.3h1.5M354.3 442.3h-1.5" stroke="#555" stroke-width="0.8" fill="none"/>
<text class="t" text-anchor="end" x="222.6" y="360.9">0.1</text>
<text class="t" text-anchor="end" x="222.6" y="403.3">0.0</text>
<text class="t" text-anchor="end" x="222.6" y="445.7">−0.1</text>
<text class="t" text-anchor="middle" x="225.8" y="461.3">0.0</text>
<text class="t" text-anchor="middle" x="251.5" y="461.3">0.2</text>
<text class="t" text-anchor="middle" x="277.2" y="461.3">0.4</text>
<text class="t" text-anchor="middle" x="302.9" y="461.3">0.6</text>
<text class="t" text-anchor="middle" x="328.6" y="461.3">0.8</text>
<text class="t" text-anchor="middle" x="354.3" y="461.3">1.0</text>
<text class="i" style="font-size:10.2px" text-anchor="middle" x="289.8" y="473.8">s</text>
<text class="cap" text-anchor="middle" x="276.4" y="490.8">(h)</text>
<g transform="translate(199.6 402.1) rotate(-90)">
<text class="i" x="-20.2" y="0">q</text><text class="dots" x="-20.0" y="-6.0">...</text><text class="yl" x="-8.0" y="0">(rad/s)</text></g>
<rect x="214.1" y="333.5" width="144" height="11.8" rx="0.8" fill="#fff" stroke="#555" stroke-width="1.1"/>
<path d="M216.1 339.5h7.6" stroke="#5a5a5a" stroke-width="0.9"/>
<text class="lq" x="227.4" y="341.4">q</text><text class="ld" x="228.4" y="336.1">...</text><text class="ls" x="232.2" y="343.3">1</text>
<path d="M240.2 339.5h7.6" stroke="#ea5a56" stroke-width="0.9"/>
<text class="lq" x="251.9" y="341.4">q</text><text class="ld" x="252.9" y="336.1">...</text><text class="ls" x="256.7" y="343.3">2</text>
<path d="M264.3 339.5h7.6" stroke="#3580ea" stroke-width="0.9"/>
<text class="lq" x="276.4" y="341.4">q</text><text class="ld" x="277.4" y="336.1">...</text><text class="ls" x="281.2" y="343.3">3</text>
<path d="M288.4 339.5h7.6" stroke="#45b57c" stroke-width="0.9"/>
<text class="lq" x="300.9" y="341.4">q</text><text class="ld" x="301.9" y="336.1">...</text><text class="ls" x="305.7" y="343.3">4</text>
<path d="M312.5 339.5h7.6" stroke="#ae70e8" stroke-width="0.9"/>
<text class="lq" x="325.4" y="341.4">q</text><text class="ld" x="326.4" y="336.1">...</text><text class="ls" x="330.2" y="343.3">5</text>
<path d="M336.6 339.5h7.6" stroke="#e0a315" stroke-width="0.9"/>
<text class="lq" x="349.9" y="341.4">q</text><text class="ld" x="350.9" y="336.1">...</text><text class="ls" x="354.7" y="343.3">6</text></g>
</svg>
</body></html>
